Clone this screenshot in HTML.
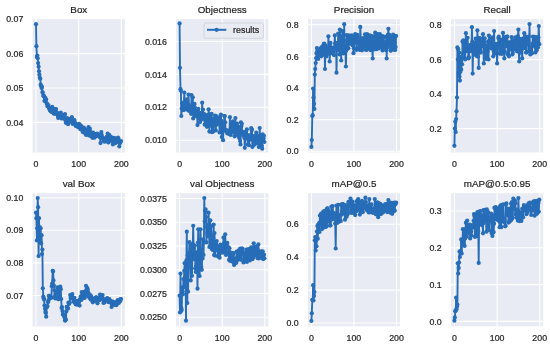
<!DOCTYPE html>
<html><head><meta charset="utf-8"><title>results</title>
<style>
html,body{margin:0;padding:0;background:#fff;}
svg{display:block;}
text{font-family:"Liberation Sans",Arial,sans-serif;fill:#262626;stroke:#262626;stroke-width:0.22px;}
.t{font-size:9.8px;text-anchor:middle;}
.y{font-size:8.8px;text-anchor:end;}
.x{font-size:8.8px;text-anchor:middle;}
.g{stroke:#fff;stroke-width:1.1;}
.l{fill:none;stroke:#276db8;stroke-width:1.9;stroke-linejoin:round;stroke-linecap:round;}
.m{fill:#276db8;}
</style></head><body>
<svg width="550" height="347" viewBox="0 0 550 347">
<rect width="550" height="347" fill="#fff"/>
<g>
<rect x="32.6" y="19.1" width="92.3" height="133.4" fill="#e8ebf3"/>
<line class="g" x1="36" y1="19.1" x2="36" y2="152.5"/><line class="g" x1="78.7" y1="19.1" x2="78.7" y2="152.5"/><line class="g" x1="121.4" y1="19.1" x2="121.4" y2="152.5"/><line class="g" x1="32.6" y1="53.6" x2="124.9" y2="53.6"/><line class="g" x1="32.6" y1="88" x2="124.9" y2="88"/><line class="g" x1="32.6" y1="122.4" x2="124.9" y2="122.4"/>
<clipPath id="c0"><rect x="32.6" y="19.1" width="92.3" height="133.4"/></clipPath>
<g clip-path="url(#c0)"><polyline class="l" points="36,24.2 36.4,46.2 36.9,56.9 37.3,55.5 37.7,58.3 38.1,63.1 38.6,66.7 39,71.3 39.4,74.7 39.8,77.8 40.3,78.7 40.7,84.7 41.1,85.9 41.6,87.9 42,86.9 42.4,92 42.8,92.9 43.3,95.8 43.7,96 44.1,96.2 44.5,100.9 45,98 45.4,98.1 45.8,99.5 46.2,99.6 46.7,103.4 47.1,103.9 47.5,106.2 48,106.1 48.4,105 48.8,107.6 49.2,108.3 49.7,109.7 50.1,110.5 50.5,110.7 50.9,109.7 51.4,111.9 51.8,110.1 52.2,106.8 52.7,108 53.1,110.5 53.5,113 53.9,113.7 54.4,109.1 54.8,111.4 55.2,113.8 55.6,113.1 56.1,109.1 56.5,112.3 56.9,112.5 57.4,113.5 57.8,115.4 58.2,117.9 58.6,117.3 59.1,117 59.5,115.5 59.9,114.8 60.3,114.5 60.8,112.7 61.2,115.1 61.6,118.5 62,115.3 62.5,116.1 62.9,118.2 63.3,117.2 63.8,118.3 64.2,116.1 64.6,114.8 65,114 65.5,120.4 65.9,122.8 66.3,121.6 66.7,119.9 67.2,118 67.6,118.8 68,124.2 68.5,122.2 68.9,119.3 69.3,119.8 69.7,118.9 70.2,120.9 70.6,121.7 71,121.3 71.4,120.8 71.9,117.2 72.3,121.8 72.7,123.9 73.1,122.4 73.6,122.7 74,120.7 74.4,120.1 74.9,122.4 75.3,124.5 75.7,125.9 76.1,124.2 76.6,124.6 77,125.8 77.4,125.5 77.8,127.1 78.3,124.8 78.7,126.9 79.1,123.9 79.6,125 80,125.1 80.4,129.2 80.8,127.7 81.3,126.2 81.7,129.8 82.1,129.5 82.5,128.9 83,132.2 83.4,129.4 83.8,127.6 84.3,131.1 84.7,129.6 85.1,133.2 85.5,131.5 86,134.9 86.4,129.7 86.8,130 87.2,131.3 87.7,133.6 88.1,129.7 88.5,127 88.9,135.5 89.4,130.9 89.8,128.7 90.2,131.4 90.7,136 91.1,132.5 91.5,134.1 91.9,135.7 92.4,137.8 92.8,134.3 93.2,132.7 93.6,135.8 94.1,134.1 94.5,137.7 94.9,134.2 95.4,135 95.8,136 96.2,136.2 96.6,134 97.1,133.7 97.5,134.3 97.9,135.5 98.3,136.1 98.8,135.1 99.2,135.9 99.6,135.1 100.1,137.4 100.5,143.1 100.9,136.8 101.3,132.1 101.8,135 102.2,137.3 102.6,138.2 103,138.5 103.5,138.3 103.9,141.2 104.3,140.6 104.7,141.7 105.2,139 105.6,139.7 106,138 106.5,139.2 106.9,136.7 107.3,138 107.7,133.6 108.2,142.5 108.6,142.2 109,138.2 109.4,135.2 109.9,138.5 110.3,139.6 110.7,140.6 111.2,137.1 111.6,140.2 112,138.9 112.4,141.1 112.9,144.4 113.3,141.4 113.7,140.1 114.1,137.8 114.6,140.9 115,143.2 115.4,141 115.8,141.3 116.3,138.6 116.7,142.4 117.1,139.7 117.6,141 118,137.6 118.4,138.8 118.8,140.4 119.3,146.5 119.7,143.3 120.1,142.8 120.5,141.8 121,141"/>
<g class="m"><circle cx="36" cy="24.2" r="2.1"/><circle cx="36.4" cy="46.2" r="2.1"/><circle cx="36.9" cy="56.9" r="2.1"/><circle cx="37.3" cy="55.5" r="2.1"/><circle cx="37.7" cy="58.3" r="2.1"/><circle cx="38.1" cy="63.1" r="2.1"/><circle cx="38.6" cy="66.7" r="2.1"/><circle cx="39" cy="71.3" r="2.1"/><circle cx="39.4" cy="74.7" r="2.1"/><circle cx="39.8" cy="77.8" r="2.1"/><circle cx="40.3" cy="78.7" r="2.1"/><circle cx="40.7" cy="84.7" r="2.1"/><circle cx="41.1" cy="85.9" r="2.1"/><circle cx="41.6" cy="87.9" r="2.1"/><circle cx="42" cy="86.9" r="2.1"/><circle cx="42.4" cy="92" r="2.1"/><circle cx="42.8" cy="92.9" r="2.1"/><circle cx="43.3" cy="95.8" r="2.1"/><circle cx="43.7" cy="96" r="2.1"/><circle cx="44.1" cy="96.2" r="2.1"/><circle cx="44.5" cy="100.9" r="2.1"/><circle cx="45" cy="98" r="2.1"/><circle cx="45.4" cy="98.1" r="2.1"/><circle cx="45.8" cy="99.5" r="2.1"/><circle cx="46.2" cy="99.6" r="2.1"/><circle cx="46.7" cy="103.4" r="2.1"/><circle cx="47.1" cy="103.9" r="2.1"/><circle cx="47.5" cy="106.2" r="2.1"/><circle cx="48" cy="106.1" r="2.1"/><circle cx="48.4" cy="105" r="2.1"/><circle cx="48.8" cy="107.6" r="2.1"/><circle cx="49.2" cy="108.3" r="2.1"/><circle cx="49.7" cy="109.7" r="2.1"/><circle cx="50.1" cy="110.5" r="2.1"/><circle cx="50.5" cy="110.7" r="2.1"/><circle cx="50.9" cy="109.7" r="2.1"/><circle cx="51.4" cy="111.9" r="2.1"/><circle cx="51.8" cy="110.1" r="2.1"/><circle cx="52.2" cy="106.8" r="2.1"/><circle cx="52.7" cy="108" r="2.1"/><circle cx="53.1" cy="110.5" r="2.1"/><circle cx="53.5" cy="113" r="2.1"/><circle cx="53.9" cy="113.7" r="2.1"/><circle cx="54.4" cy="109.1" r="2.1"/><circle cx="54.8" cy="111.4" r="2.1"/><circle cx="55.2" cy="113.8" r="2.1"/><circle cx="55.6" cy="113.1" r="2.1"/><circle cx="56.1" cy="109.1" r="2.1"/><circle cx="56.5" cy="112.3" r="2.1"/><circle cx="56.9" cy="112.5" r="2.1"/><circle cx="57.4" cy="113.5" r="2.1"/><circle cx="57.8" cy="115.4" r="2.1"/><circle cx="58.2" cy="117.9" r="2.1"/><circle cx="58.6" cy="117.3" r="2.1"/><circle cx="59.1" cy="117" r="2.1"/><circle cx="59.5" cy="115.5" r="2.1"/><circle cx="59.9" cy="114.8" r="2.1"/><circle cx="60.3" cy="114.5" r="2.1"/><circle cx="60.8" cy="112.7" r="2.1"/><circle cx="61.2" cy="115.1" r="2.1"/><circle cx="61.6" cy="118.5" r="2.1"/><circle cx="62" cy="115.3" r="2.1"/><circle cx="62.5" cy="116.1" r="2.1"/><circle cx="62.9" cy="118.2" r="2.1"/><circle cx="63.3" cy="117.2" r="2.1"/><circle cx="63.8" cy="118.3" r="2.1"/><circle cx="64.2" cy="116.1" r="2.1"/><circle cx="64.6" cy="114.8" r="2.1"/><circle cx="65" cy="114" r="2.1"/><circle cx="65.5" cy="120.4" r="2.1"/><circle cx="65.9" cy="122.8" r="2.1"/><circle cx="66.3" cy="121.6" r="2.1"/><circle cx="66.7" cy="119.9" r="2.1"/><circle cx="67.2" cy="118" r="2.1"/><circle cx="67.6" cy="118.8" r="2.1"/><circle cx="68" cy="124.2" r="2.1"/><circle cx="68.5" cy="122.2" r="2.1"/><circle cx="68.9" cy="119.3" r="2.1"/><circle cx="69.3" cy="119.8" r="2.1"/><circle cx="69.7" cy="118.9" r="2.1"/><circle cx="70.2" cy="120.9" r="2.1"/><circle cx="70.6" cy="121.7" r="2.1"/><circle cx="71" cy="121.3" r="2.1"/><circle cx="71.4" cy="120.8" r="2.1"/><circle cx="71.9" cy="117.2" r="2.1"/><circle cx="72.3" cy="121.8" r="2.1"/><circle cx="72.7" cy="123.9" r="2.1"/><circle cx="73.1" cy="122.4" r="2.1"/><circle cx="73.6" cy="122.7" r="2.1"/><circle cx="74" cy="120.7" r="2.1"/><circle cx="74.4" cy="120.1" r="2.1"/><circle cx="74.9" cy="122.4" r="2.1"/><circle cx="75.3" cy="124.5" r="2.1"/><circle cx="75.7" cy="125.9" r="2.1"/><circle cx="76.1" cy="124.2" r="2.1"/><circle cx="76.6" cy="124.6" r="2.1"/><circle cx="77" cy="125.8" r="2.1"/><circle cx="77.4" cy="125.5" r="2.1"/><circle cx="77.8" cy="127.1" r="2.1"/><circle cx="78.3" cy="124.8" r="2.1"/><circle cx="78.7" cy="126.9" r="2.1"/><circle cx="79.1" cy="123.9" r="2.1"/><circle cx="79.6" cy="125" r="2.1"/><circle cx="80" cy="125.1" r="2.1"/><circle cx="80.4" cy="129.2" r="2.1"/><circle cx="80.8" cy="127.7" r="2.1"/><circle cx="81.3" cy="126.2" r="2.1"/><circle cx="81.7" cy="129.8" r="2.1"/><circle cx="82.1" cy="129.5" r="2.1"/><circle cx="82.5" cy="128.9" r="2.1"/><circle cx="83" cy="132.2" r="2.1"/><circle cx="83.4" cy="129.4" r="2.1"/><circle cx="83.8" cy="127.6" r="2.1"/><circle cx="84.3" cy="131.1" r="2.1"/><circle cx="84.7" cy="129.6" r="2.1"/><circle cx="85.1" cy="133.2" r="2.1"/><circle cx="85.5" cy="131.5" r="2.1"/><circle cx="86" cy="134.9" r="2.1"/><circle cx="86.4" cy="129.7" r="2.1"/><circle cx="86.8" cy="130" r="2.1"/><circle cx="87.2" cy="131.3" r="2.1"/><circle cx="87.7" cy="133.6" r="2.1"/><circle cx="88.1" cy="129.7" r="2.1"/><circle cx="88.5" cy="127" r="2.1"/><circle cx="88.9" cy="135.5" r="2.1"/><circle cx="89.4" cy="130.9" r="2.1"/><circle cx="89.8" cy="128.7" r="2.1"/><circle cx="90.2" cy="131.4" r="2.1"/><circle cx="90.7" cy="136" r="2.1"/><circle cx="91.1" cy="132.5" r="2.1"/><circle cx="91.5" cy="134.1" r="2.1"/><circle cx="91.9" cy="135.7" r="2.1"/><circle cx="92.4" cy="137.8" r="2.1"/><circle cx="92.8" cy="134.3" r="2.1"/><circle cx="93.2" cy="132.7" r="2.1"/><circle cx="93.6" cy="135.8" r="2.1"/><circle cx="94.1" cy="134.1" r="2.1"/><circle cx="94.5" cy="137.7" r="2.1"/><circle cx="94.9" cy="134.2" r="2.1"/><circle cx="95.4" cy="135" r="2.1"/><circle cx="95.8" cy="136" r="2.1"/><circle cx="96.2" cy="136.2" r="2.1"/><circle cx="96.6" cy="134" r="2.1"/><circle cx="97.1" cy="133.7" r="2.1"/><circle cx="97.5" cy="134.3" r="2.1"/><circle cx="97.9" cy="135.5" r="2.1"/><circle cx="98.3" cy="136.1" r="2.1"/><circle cx="98.8" cy="135.1" r="2.1"/><circle cx="99.2" cy="135.9" r="2.1"/><circle cx="99.6" cy="135.1" r="2.1"/><circle cx="100.1" cy="137.4" r="2.1"/><circle cx="100.5" cy="143.1" r="2.1"/><circle cx="100.9" cy="136.8" r="2.1"/><circle cx="101.3" cy="132.1" r="2.1"/><circle cx="101.8" cy="135" r="2.1"/><circle cx="102.2" cy="137.3" r="2.1"/><circle cx="102.6" cy="138.2" r="2.1"/><circle cx="103" cy="138.5" r="2.1"/><circle cx="103.5" cy="138.3" r="2.1"/><circle cx="103.9" cy="141.2" r="2.1"/><circle cx="104.3" cy="140.6" r="2.1"/><circle cx="104.7" cy="141.7" r="2.1"/><circle cx="105.2" cy="139" r="2.1"/><circle cx="105.6" cy="139.7" r="2.1"/><circle cx="106" cy="138" r="2.1"/><circle cx="106.5" cy="139.2" r="2.1"/><circle cx="106.9" cy="136.7" r="2.1"/><circle cx="107.3" cy="138" r="2.1"/><circle cx="107.7" cy="133.6" r="2.1"/><circle cx="108.2" cy="142.5" r="2.1"/><circle cx="108.6" cy="142.2" r="2.1"/><circle cx="109" cy="138.2" r="2.1"/><circle cx="109.4" cy="135.2" r="2.1"/><circle cx="109.9" cy="138.5" r="2.1"/><circle cx="110.3" cy="139.6" r="2.1"/><circle cx="110.7" cy="140.6" r="2.1"/><circle cx="111.2" cy="137.1" r="2.1"/><circle cx="111.6" cy="140.2" r="2.1"/><circle cx="112" cy="138.9" r="2.1"/><circle cx="112.4" cy="141.1" r="2.1"/><circle cx="112.9" cy="144.4" r="2.1"/><circle cx="113.3" cy="141.4" r="2.1"/><circle cx="113.7" cy="140.1" r="2.1"/><circle cx="114.1" cy="137.8" r="2.1"/><circle cx="114.6" cy="140.9" r="2.1"/><circle cx="115" cy="143.2" r="2.1"/><circle cx="115.4" cy="141" r="2.1"/><circle cx="115.8" cy="141.3" r="2.1"/><circle cx="116.3" cy="138.6" r="2.1"/><circle cx="116.7" cy="142.4" r="2.1"/><circle cx="117.1" cy="139.7" r="2.1"/><circle cx="117.6" cy="141" r="2.1"/><circle cx="118" cy="137.6" r="2.1"/><circle cx="118.4" cy="138.8" r="2.1"/><circle cx="118.8" cy="140.4" r="2.1"/><circle cx="119.3" cy="146.5" r="2.1"/><circle cx="119.7" cy="143.3" r="2.1"/><circle cx="120.1" cy="142.8" r="2.1"/><circle cx="120.5" cy="141.8" r="2.1"/><circle cx="121" cy="141" r="2.1"/></g></g>
<text class="t" x="78.8" y="13.2">Box</text>
<text class="y" x="23.3" y="22.1">0.07</text><text class="y" x="23.3" y="56.7">0.06</text><text class="y" x="23.3" y="91.1">0.05</text><text class="y" x="23.3" y="125.5">0.04</text>
<text class="x" x="36" y="167.4">0</text><text class="x" x="78.7" y="167.4">100</text><text class="x" x="121.4" y="167.4">200</text>
</g>
<g>
<rect x="176.2" y="19.1" width="92.1" height="133.4" fill="#e8ebf3"/>
<line class="g" x1="179.6" y1="19.1" x2="179.6" y2="152.5"/><line class="g" x1="222.2" y1="19.1" x2="222.2" y2="152.5"/><line class="g" x1="264.8" y1="19.1" x2="264.8" y2="152.5"/><line class="g" x1="176.2" y1="41.5" x2="268.3" y2="41.5"/><line class="g" x1="176.2" y1="74.4" x2="268.3" y2="74.4"/><line class="g" x1="176.2" y1="107.3" x2="268.3" y2="107.3"/><line class="g" x1="176.2" y1="140.2" x2="268.3" y2="140.2"/>
<clipPath id="c1"><rect x="176.2" y="19.1" width="92.1" height="133.4"/></clipPath>
<g clip-path="url(#c1)"><polyline class="l" points="179.6,23.4 180,67.8 180.5,89.2 180.9,90.8 181.3,116 181.7,108.6 182.2,103.2 182.6,109.1 183,110.2 183.4,110 183.9,102.8 184.3,92.6 184.7,101.1 185.1,109.4 185.6,103.1 186,107.5 186.4,105.8 186.8,99.4 187.3,107.7 187.7,106 188.1,110.3 188.5,94.6 189,105.2 189.4,111 189.8,109.2 190.2,108.4 190.7,110.4 191.1,113.8 191.5,95 192,110.2 192.4,109.4 192.8,97.3 193.2,118.5 193.7,111.4 194.1,109 194.5,103.9 194.9,107.5 195.4,115.9 195.8,114.2 196.2,111.7 196.6,115.9 197.1,112.1 197.5,125.1 197.9,110.6 198.3,108.9 198.8,118.2 199.2,115.4 199.6,117.3 200,122.1 200.5,118.5 200.9,112.8 201.3,118.2 201.8,119.4 202.2,102.7 202.6,114.9 203,109.7 203.5,117.9 203.9,114 204.3,114.3 204.7,124.7 205.2,119.9 205.6,117.6 206,116.8 206.4,115 206.9,126.8 207.3,119.4 207.7,121.5 208.1,126.1 208.6,109.3 209,114.6 209.4,131.6 209.8,115.5 210.3,120.5 210.7,119.7 211.1,125.7 211.6,113.9 212,132.2 212.4,124.5 212.8,118.8 213.3,131.4 213.7,125.5 214.1,123.6 214.5,118.8 215,115.6 215.4,123.3 215.8,130.4 216.2,118.5 216.7,116.4 217.1,124.6 217.5,122.7 217.9,122.2 218.4,121.4 218.8,123.2 219.2,117.8 219.6,132.4 220.1,122.3 220.5,123.3 220.9,114.5 221.3,120.8 221.8,137.1 222.2,123.8 222.6,124.4 223.1,140.2 223.5,126.4 223.9,128.7 224.3,116.1 224.8,116.1 225.2,122.3 225.6,130 226,131.3 226.5,130.4 226.9,131.4 227.3,133.4 227.7,132.4 228.2,130.7 228.6,131.5 229,132.7 229.4,134.2 229.9,117.2 230.3,133.1 230.7,134.9 231.1,128.1 231.6,130.2 232,126.9 232.4,124.3 232.9,121.3 233.3,123.1 233.7,132.2 234.1,124 234.6,136.3 235,131.2 235.4,118 235.8,134.8 236.3,127.2 236.7,129.2 237.1,123.7 237.5,135.4 238,127.1 238.4,127.2 238.8,129.5 239.2,138.1 239.7,134.9 240.1,141 240.5,144.4 240.9,122.3 241.4,126 241.8,123.8 242.2,134.7 242.6,132.2 243.1,132 243.5,132.8 243.9,136 244.4,138 244.8,147.8 245.2,137 245.6,135.4 246.1,131.6 246.5,137.7 246.9,129.3 247.3,138.1 247.8,144.5 248.2,135.3 248.6,140 249,145.2 249.5,139.8 249.9,135.4 250.3,136.9 250.7,136.2 251.2,128 251.6,130.1 252,129.6 252.4,147 252.9,139.8 253.3,136.1 253.7,140.9 254.2,144.8 254.6,139.4 255,141.7 255.4,143.7 255.9,135.6 256.3,132.7 256.7,137.2 257.1,142.1 257.6,138.5 258,136.2 258.4,136.6 258.8,147.1 259.3,144.2 259.7,128 260.1,137.8 260.5,135.6 261,136.2 261.4,145.7 261.8,146 262.2,148.7 262.7,134.4 263.1,139 263.5,138.3 263.9,135.8 264.4,142"/>
<g class="m"><circle cx="179.6" cy="23.4" r="2.1"/><circle cx="180" cy="67.8" r="2.1"/><circle cx="180.5" cy="89.2" r="2.1"/><circle cx="180.9" cy="90.8" r="2.1"/><circle cx="181.3" cy="116" r="2.1"/><circle cx="181.7" cy="108.6" r="2.1"/><circle cx="182.2" cy="103.2" r="2.1"/><circle cx="182.6" cy="109.1" r="2.1"/><circle cx="183" cy="110.2" r="2.1"/><circle cx="183.4" cy="110" r="2.1"/><circle cx="183.9" cy="102.8" r="2.1"/><circle cx="184.3" cy="92.6" r="2.1"/><circle cx="184.7" cy="101.1" r="2.1"/><circle cx="185.1" cy="109.4" r="2.1"/><circle cx="185.6" cy="103.1" r="2.1"/><circle cx="186" cy="107.5" r="2.1"/><circle cx="186.4" cy="105.8" r="2.1"/><circle cx="186.8" cy="99.4" r="2.1"/><circle cx="187.3" cy="107.7" r="2.1"/><circle cx="187.7" cy="106" r="2.1"/><circle cx="188.1" cy="110.3" r="2.1"/><circle cx="188.5" cy="94.6" r="2.1"/><circle cx="189" cy="105.2" r="2.1"/><circle cx="189.4" cy="111" r="2.1"/><circle cx="189.8" cy="109.2" r="2.1"/><circle cx="190.2" cy="108.4" r="2.1"/><circle cx="190.7" cy="110.4" r="2.1"/><circle cx="191.1" cy="113.8" r="2.1"/><circle cx="191.5" cy="95" r="2.1"/><circle cx="192" cy="110.2" r="2.1"/><circle cx="192.4" cy="109.4" r="2.1"/><circle cx="192.8" cy="97.3" r="2.1"/><circle cx="193.2" cy="118.5" r="2.1"/><circle cx="193.7" cy="111.4" r="2.1"/><circle cx="194.1" cy="109" r="2.1"/><circle cx="194.5" cy="103.9" r="2.1"/><circle cx="194.9" cy="107.5" r="2.1"/><circle cx="195.4" cy="115.9" r="2.1"/><circle cx="195.8" cy="114.2" r="2.1"/><circle cx="196.2" cy="111.7" r="2.1"/><circle cx="196.6" cy="115.9" r="2.1"/><circle cx="197.1" cy="112.1" r="2.1"/><circle cx="197.5" cy="125.1" r="2.1"/><circle cx="197.9" cy="110.6" r="2.1"/><circle cx="198.3" cy="108.9" r="2.1"/><circle cx="198.8" cy="118.2" r="2.1"/><circle cx="199.2" cy="115.4" r="2.1"/><circle cx="199.6" cy="117.3" r="2.1"/><circle cx="200" cy="122.1" r="2.1"/><circle cx="200.5" cy="118.5" r="2.1"/><circle cx="200.9" cy="112.8" r="2.1"/><circle cx="201.3" cy="118.2" r="2.1"/><circle cx="201.8" cy="119.4" r="2.1"/><circle cx="202.2" cy="102.7" r="2.1"/><circle cx="202.6" cy="114.9" r="2.1"/><circle cx="203" cy="109.7" r="2.1"/><circle cx="203.5" cy="117.9" r="2.1"/><circle cx="203.9" cy="114" r="2.1"/><circle cx="204.3" cy="114.3" r="2.1"/><circle cx="204.7" cy="124.7" r="2.1"/><circle cx="205.2" cy="119.9" r="2.1"/><circle cx="205.6" cy="117.6" r="2.1"/><circle cx="206" cy="116.8" r="2.1"/><circle cx="206.4" cy="115" r="2.1"/><circle cx="206.9" cy="126.8" r="2.1"/><circle cx="207.3" cy="119.4" r="2.1"/><circle cx="207.7" cy="121.5" r="2.1"/><circle cx="208.1" cy="126.1" r="2.1"/><circle cx="208.6" cy="109.3" r="2.1"/><circle cx="209" cy="114.6" r="2.1"/><circle cx="209.4" cy="131.6" r="2.1"/><circle cx="209.8" cy="115.5" r="2.1"/><circle cx="210.3" cy="120.5" r="2.1"/><circle cx="210.7" cy="119.7" r="2.1"/><circle cx="211.1" cy="125.7" r="2.1"/><circle cx="211.6" cy="113.9" r="2.1"/><circle cx="212" cy="132.2" r="2.1"/><circle cx="212.4" cy="124.5" r="2.1"/><circle cx="212.8" cy="118.8" r="2.1"/><circle cx="213.3" cy="131.4" r="2.1"/><circle cx="213.7" cy="125.5" r="2.1"/><circle cx="214.1" cy="123.6" r="2.1"/><circle cx="214.5" cy="118.8" r="2.1"/><circle cx="215" cy="115.6" r="2.1"/><circle cx="215.4" cy="123.3" r="2.1"/><circle cx="215.8" cy="130.4" r="2.1"/><circle cx="216.2" cy="118.5" r="2.1"/><circle cx="216.7" cy="116.4" r="2.1"/><circle cx="217.1" cy="124.6" r="2.1"/><circle cx="217.5" cy="122.7" r="2.1"/><circle cx="217.9" cy="122.2" r="2.1"/><circle cx="218.4" cy="121.4" r="2.1"/><circle cx="218.8" cy="123.2" r="2.1"/><circle cx="219.2" cy="117.8" r="2.1"/><circle cx="219.6" cy="132.4" r="2.1"/><circle cx="220.1" cy="122.3" r="2.1"/><circle cx="220.5" cy="123.3" r="2.1"/><circle cx="220.9" cy="114.5" r="2.1"/><circle cx="221.3" cy="120.8" r="2.1"/><circle cx="221.8" cy="137.1" r="2.1"/><circle cx="222.2" cy="123.8" r="2.1"/><circle cx="222.6" cy="124.4" r="2.1"/><circle cx="223.1" cy="140.2" r="2.1"/><circle cx="223.5" cy="126.4" r="2.1"/><circle cx="223.9" cy="128.7" r="2.1"/><circle cx="224.3" cy="116.1" r="2.1"/><circle cx="224.8" cy="116.1" r="2.1"/><circle cx="225.2" cy="122.3" r="2.1"/><circle cx="225.6" cy="130" r="2.1"/><circle cx="226" cy="131.3" r="2.1"/><circle cx="226.5" cy="130.4" r="2.1"/><circle cx="226.9" cy="131.4" r="2.1"/><circle cx="227.3" cy="133.4" r="2.1"/><circle cx="227.7" cy="132.4" r="2.1"/><circle cx="228.2" cy="130.7" r="2.1"/><circle cx="228.6" cy="131.5" r="2.1"/><circle cx="229" cy="132.7" r="2.1"/><circle cx="229.4" cy="134.2" r="2.1"/><circle cx="229.9" cy="117.2" r="2.1"/><circle cx="230.3" cy="133.1" r="2.1"/><circle cx="230.7" cy="134.9" r="2.1"/><circle cx="231.1" cy="128.1" r="2.1"/><circle cx="231.6" cy="130.2" r="2.1"/><circle cx="232" cy="126.9" r="2.1"/><circle cx="232.4" cy="124.3" r="2.1"/><circle cx="232.9" cy="121.3" r="2.1"/><circle cx="233.3" cy="123.1" r="2.1"/><circle cx="233.7" cy="132.2" r="2.1"/><circle cx="234.1" cy="124" r="2.1"/><circle cx="234.6" cy="136.3" r="2.1"/><circle cx="235" cy="131.2" r="2.1"/><circle cx="235.4" cy="118" r="2.1"/><circle cx="235.8" cy="134.8" r="2.1"/><circle cx="236.3" cy="127.2" r="2.1"/><circle cx="236.7" cy="129.2" r="2.1"/><circle cx="237.1" cy="123.7" r="2.1"/><circle cx="237.5" cy="135.4" r="2.1"/><circle cx="238" cy="127.1" r="2.1"/><circle cx="238.4" cy="127.2" r="2.1"/><circle cx="238.8" cy="129.5" r="2.1"/><circle cx="239.2" cy="138.1" r="2.1"/><circle cx="239.7" cy="134.9" r="2.1"/><circle cx="240.1" cy="141" r="2.1"/><circle cx="240.5" cy="144.4" r="2.1"/><circle cx="240.9" cy="122.3" r="2.1"/><circle cx="241.4" cy="126" r="2.1"/><circle cx="241.8" cy="123.8" r="2.1"/><circle cx="242.2" cy="134.7" r="2.1"/><circle cx="242.6" cy="132.2" r="2.1"/><circle cx="243.1" cy="132" r="2.1"/><circle cx="243.5" cy="132.8" r="2.1"/><circle cx="243.9" cy="136" r="2.1"/><circle cx="244.4" cy="138" r="2.1"/><circle cx="244.8" cy="147.8" r="2.1"/><circle cx="245.2" cy="137" r="2.1"/><circle cx="245.6" cy="135.4" r="2.1"/><circle cx="246.1" cy="131.6" r="2.1"/><circle cx="246.5" cy="137.7" r="2.1"/><circle cx="246.9" cy="129.3" r="2.1"/><circle cx="247.3" cy="138.1" r="2.1"/><circle cx="247.8" cy="144.5" r="2.1"/><circle cx="248.2" cy="135.3" r="2.1"/><circle cx="248.6" cy="140" r="2.1"/><circle cx="249" cy="145.2" r="2.1"/><circle cx="249.5" cy="139.8" r="2.1"/><circle cx="249.9" cy="135.4" r="2.1"/><circle cx="250.3" cy="136.9" r="2.1"/><circle cx="250.7" cy="136.2" r="2.1"/><circle cx="251.2" cy="128" r="2.1"/><circle cx="251.6" cy="130.1" r="2.1"/><circle cx="252" cy="129.6" r="2.1"/><circle cx="252.4" cy="147" r="2.1"/><circle cx="252.9" cy="139.8" r="2.1"/><circle cx="253.3" cy="136.1" r="2.1"/><circle cx="253.7" cy="140.9" r="2.1"/><circle cx="254.2" cy="144.8" r="2.1"/><circle cx="254.6" cy="139.4" r="2.1"/><circle cx="255" cy="141.7" r="2.1"/><circle cx="255.4" cy="143.7" r="2.1"/><circle cx="255.9" cy="135.6" r="2.1"/><circle cx="256.3" cy="132.7" r="2.1"/><circle cx="256.7" cy="137.2" r="2.1"/><circle cx="257.1" cy="142.1" r="2.1"/><circle cx="257.6" cy="138.5" r="2.1"/><circle cx="258" cy="136.2" r="2.1"/><circle cx="258.4" cy="136.6" r="2.1"/><circle cx="258.8" cy="147.1" r="2.1"/><circle cx="259.3" cy="144.2" r="2.1"/><circle cx="259.7" cy="128" r="2.1"/><circle cx="260.1" cy="137.8" r="2.1"/><circle cx="260.5" cy="135.6" r="2.1"/><circle cx="261" cy="136.2" r="2.1"/><circle cx="261.4" cy="145.7" r="2.1"/><circle cx="261.8" cy="146" r="2.1"/><circle cx="262.2" cy="148.7" r="2.1"/><circle cx="262.7" cy="134.4" r="2.1"/><circle cx="263.1" cy="139" r="2.1"/><circle cx="263.5" cy="138.3" r="2.1"/><circle cx="263.9" cy="135.8" r="2.1"/><circle cx="264.4" cy="142" r="2.1"/></g></g>
<text class="t" x="222.2" y="13.2">Objectness</text>
<text class="y" x="166.9" y="44.6">0.016</text><text class="y" x="166.9" y="77.5">0.014</text><text class="y" x="166.9" y="110.4">0.012</text><text class="y" x="166.9" y="143.3">0.010</text>
<text class="x" x="179.6" y="167.4">0</text><text class="x" x="222.2" y="167.4">100</text><text class="x" x="264.8" y="167.4">200</text>
<rect x="204" y="23" width="59.4" height="15.3" rx="1.8" fill="#e8ebf3" fill-opacity="0.8" stroke="#cfcfd6" stroke-width="0.8"/>
<line x1="207" y1="29.8" x2="226.3" y2="29.8" stroke="#276db8" stroke-width="2"/><circle cx="216.6" cy="29.8" r="2.1" fill="#276db8"/><text x="233.1" y="32.6" style="font-size:8.9px">results</text>
</g>
<g>
<rect x="308" y="19.1" width="92" height="133.4" fill="#e8ebf3"/>
<line class="g" x1="311.4" y1="19.1" x2="311.4" y2="152.5"/><line class="g" x1="353.9" y1="19.1" x2="353.9" y2="152.5"/><line class="g" x1="396.5" y1="19.1" x2="396.5" y2="152.5"/><line class="g" x1="308" y1="24.8" x2="400" y2="24.8"/><line class="g" x1="308" y1="56.4" x2="400" y2="56.4"/><line class="g" x1="308" y1="88" x2="400" y2="88"/><line class="g" x1="308" y1="119.6" x2="400" y2="119.6"/><line class="g" x1="308" y1="151.2" x2="400" y2="151.2"/>
<clipPath id="c2"><rect x="308" y="19.1" width="92" height="133.4"/></clipPath>
<g clip-path="url(#c2)"><polyline class="l" points="311.4,146.9 311.8,140.1 312.3,116 312.7,115.2 313.1,88.6 313.5,97.5 314,103.8 314.4,109 314.8,74.6 315.2,69 315.7,63 316.1,58 316.5,53.2 316.9,48 317.4,51 317.8,51.7 318.2,59 318.6,51.5 319.1,55.4 319.5,52.9 319.9,54.7 320.3,48.4 320.8,52.1 321.2,56.3 321.6,50.4 322,46.8 322.5,53.8 322.9,55 323.3,52.4 323.7,44.2 324.2,43.6 324.6,48 325,69 325.4,45.3 325.9,52.2 326.3,56.4 326.7,47.9 327.1,49.2 327.6,52 328,54 328.4,36.3 328.8,50 329.3,53 329.7,61.5 330.1,49.7 330.5,42.9 331,47.3 331.4,52.3 331.8,52.3 332.2,49.1 332.7,53.4 333.1,53.3 333.5,47.7 334,55.2 334.4,48 334.8,35.4 335.2,43.6 335.7,42.8 336.1,43.6 336.5,72.7 336.9,49.3 337.4,43.6 337.8,49.7 338.2,33.5 338.6,49.7 339.1,47.3 339.5,54.5 339.9,29.5 340.3,36.7 340.8,50.9 341.2,60.5 341.6,42.5 342,40.9 342.5,31.1 342.9,43.1 343.3,53.3 343.7,53.1 344.2,24.2 344.6,51.3 345,52.2 345.4,51.5 345.9,66.5 346.3,50.2 346.7,35.1 347.1,40.4 347.6,43.1 348,39.8 348.4,48.3 348.8,35.4 349.3,37 349.7,39.2 350.1,43.8 350.5,36.8 351,38.6 351.4,40.1 351.8,35.3 352.2,40.5 352.7,45.4 353.1,41.8 353.5,53.2 353.9,48.2 354.4,38.5 354.8,37.4 355.2,34 355.7,36.2 356.1,41.7 356.5,49.9 356.9,42.7 357.4,34.8 357.8,37.3 358.2,42.7 358.6,43.2 359.1,47.5 359.5,48.2 359.9,50 360.3,26.9 360.8,39.9 361.2,48.7 361.6,43.9 362,50.3 362.5,47.4 362.9,38.2 363.3,39.6 363.7,42.6 364.2,46.2 364.6,39.6 365,34.3 365.4,43.3 365.9,49.7 366.3,49.9 366.7,49.4 367.1,34.2 367.6,41.5 368,36.3 368.4,48.1 368.8,46.5 369.3,38.9 369.7,35.3 370.1,45.2 370.5,50.2 371,35.9 371.4,46.2 371.8,38.2 372.2,48.7 372.7,58.5 373.1,36.4 373.5,38.5 373.9,45.2 374.4,38.5 374.8,49.3 375.2,32.7 375.7,44.2 376.1,35.8 376.5,49.2 376.9,35.7 377.4,37.2 377.8,34 378.2,45.4 378.6,48.5 379.1,47.8 379.5,36.8 379.9,34.2 380.3,39.2 380.8,43.3 381.2,46.9 381.6,36.7 382,36 382.5,50.5 382.9,48.1 383.3,36.8 383.7,36.5 384.2,46.2 384.6,46.9 385,44.1 385.4,42.1 385.9,50.1 386.3,36.7 386.7,58.5 387.1,37.9 387.6,47.6 388,34.5 388.4,28.8 388.8,45.5 389.3,34.9 389.7,39.2 390.1,36.8 390.5,50.6 391,50.4 391.4,38.5 391.8,46 392.2,42.4 392.7,48.5 393.1,34.5 393.5,42.6 393.9,37.1 394.4,49.8 394.8,43 395.2,49.9 395.6,46.9 396.1,35.9"/>
<g class="m"><circle cx="311.4" cy="146.9" r="2.1"/><circle cx="311.8" cy="140.1" r="2.1"/><circle cx="312.3" cy="116" r="2.1"/><circle cx="312.7" cy="115.2" r="2.1"/><circle cx="313.1" cy="88.6" r="2.1"/><circle cx="313.5" cy="97.5" r="2.1"/><circle cx="314" cy="103.8" r="2.1"/><circle cx="314.4" cy="109" r="2.1"/><circle cx="314.8" cy="74.6" r="2.1"/><circle cx="315.2" cy="69" r="2.1"/><circle cx="315.7" cy="63" r="2.1"/><circle cx="316.1" cy="58" r="2.1"/><circle cx="316.5" cy="53.2" r="2.1"/><circle cx="316.9" cy="48" r="2.1"/><circle cx="317.4" cy="51" r="2.1"/><circle cx="317.8" cy="51.7" r="2.1"/><circle cx="318.2" cy="59" r="2.1"/><circle cx="318.6" cy="51.5" r="2.1"/><circle cx="319.1" cy="55.4" r="2.1"/><circle cx="319.5" cy="52.9" r="2.1"/><circle cx="319.9" cy="54.7" r="2.1"/><circle cx="320.3" cy="48.4" r="2.1"/><circle cx="320.8" cy="52.1" r="2.1"/><circle cx="321.2" cy="56.3" r="2.1"/><circle cx="321.6" cy="50.4" r="2.1"/><circle cx="322" cy="46.8" r="2.1"/><circle cx="322.5" cy="53.8" r="2.1"/><circle cx="322.9" cy="55" r="2.1"/><circle cx="323.3" cy="52.4" r="2.1"/><circle cx="323.7" cy="44.2" r="2.1"/><circle cx="324.2" cy="43.6" r="2.1"/><circle cx="324.6" cy="48" r="2.1"/><circle cx="325" cy="69" r="2.1"/><circle cx="325.4" cy="45.3" r="2.1"/><circle cx="325.9" cy="52.2" r="2.1"/><circle cx="326.3" cy="56.4" r="2.1"/><circle cx="326.7" cy="47.9" r="2.1"/><circle cx="327.1" cy="49.2" r="2.1"/><circle cx="327.6" cy="52" r="2.1"/><circle cx="328" cy="54" r="2.1"/><circle cx="328.4" cy="36.3" r="2.1"/><circle cx="328.8" cy="50" r="2.1"/><circle cx="329.3" cy="53" r="2.1"/><circle cx="329.7" cy="61.5" r="2.1"/><circle cx="330.1" cy="49.7" r="2.1"/><circle cx="330.5" cy="42.9" r="2.1"/><circle cx="331" cy="47.3" r="2.1"/><circle cx="331.4" cy="52.3" r="2.1"/><circle cx="331.8" cy="52.3" r="2.1"/><circle cx="332.2" cy="49.1" r="2.1"/><circle cx="332.7" cy="53.4" r="2.1"/><circle cx="333.1" cy="53.3" r="2.1"/><circle cx="333.5" cy="47.7" r="2.1"/><circle cx="334" cy="55.2" r="2.1"/><circle cx="334.4" cy="48" r="2.1"/><circle cx="334.8" cy="35.4" r="2.1"/><circle cx="335.2" cy="43.6" r="2.1"/><circle cx="335.7" cy="42.8" r="2.1"/><circle cx="336.1" cy="43.6" r="2.1"/><circle cx="336.5" cy="72.7" r="2.1"/><circle cx="336.9" cy="49.3" r="2.1"/><circle cx="337.4" cy="43.6" r="2.1"/><circle cx="337.8" cy="49.7" r="2.1"/><circle cx="338.2" cy="33.5" r="2.1"/><circle cx="338.6" cy="49.7" r="2.1"/><circle cx="339.1" cy="47.3" r="2.1"/><circle cx="339.5" cy="54.5" r="2.1"/><circle cx="339.9" cy="29.5" r="2.1"/><circle cx="340.3" cy="36.7" r="2.1"/><circle cx="340.8" cy="50.9" r="2.1"/><circle cx="341.2" cy="60.5" r="2.1"/><circle cx="341.6" cy="42.5" r="2.1"/><circle cx="342" cy="40.9" r="2.1"/><circle cx="342.5" cy="31.1" r="2.1"/><circle cx="342.9" cy="43.1" r="2.1"/><circle cx="343.3" cy="53.3" r="2.1"/><circle cx="343.7" cy="53.1" r="2.1"/><circle cx="344.2" cy="24.2" r="2.1"/><circle cx="344.6" cy="51.3" r="2.1"/><circle cx="345" cy="52.2" r="2.1"/><circle cx="345.4" cy="51.5" r="2.1"/><circle cx="345.9" cy="66.5" r="2.1"/><circle cx="346.3" cy="50.2" r="2.1"/><circle cx="346.7" cy="35.1" r="2.1"/><circle cx="347.1" cy="40.4" r="2.1"/><circle cx="347.6" cy="43.1" r="2.1"/><circle cx="348" cy="39.8" r="2.1"/><circle cx="348.4" cy="48.3" r="2.1"/><circle cx="348.8" cy="35.4" r="2.1"/><circle cx="349.3" cy="37" r="2.1"/><circle cx="349.7" cy="39.2" r="2.1"/><circle cx="350.1" cy="43.8" r="2.1"/><circle cx="350.5" cy="36.8" r="2.1"/><circle cx="351" cy="38.6" r="2.1"/><circle cx="351.4" cy="40.1" r="2.1"/><circle cx="351.8" cy="35.3" r="2.1"/><circle cx="352.2" cy="40.5" r="2.1"/><circle cx="352.7" cy="45.4" r="2.1"/><circle cx="353.1" cy="41.8" r="2.1"/><circle cx="353.5" cy="53.2" r="2.1"/><circle cx="353.9" cy="48.2" r="2.1"/><circle cx="354.4" cy="38.5" r="2.1"/><circle cx="354.8" cy="37.4" r="2.1"/><circle cx="355.2" cy="34" r="2.1"/><circle cx="355.7" cy="36.2" r="2.1"/><circle cx="356.1" cy="41.7" r="2.1"/><circle cx="356.5" cy="49.9" r="2.1"/><circle cx="356.9" cy="42.7" r="2.1"/><circle cx="357.4" cy="34.8" r="2.1"/><circle cx="357.8" cy="37.3" r="2.1"/><circle cx="358.2" cy="42.7" r="2.1"/><circle cx="358.6" cy="43.2" r="2.1"/><circle cx="359.1" cy="47.5" r="2.1"/><circle cx="359.5" cy="48.2" r="2.1"/><circle cx="359.9" cy="50" r="2.1"/><circle cx="360.3" cy="26.9" r="2.1"/><circle cx="360.8" cy="39.9" r="2.1"/><circle cx="361.2" cy="48.7" r="2.1"/><circle cx="361.6" cy="43.9" r="2.1"/><circle cx="362" cy="50.3" r="2.1"/><circle cx="362.5" cy="47.4" r="2.1"/><circle cx="362.9" cy="38.2" r="2.1"/><circle cx="363.3" cy="39.6" r="2.1"/><circle cx="363.7" cy="42.6" r="2.1"/><circle cx="364.2" cy="46.2" r="2.1"/><circle cx="364.6" cy="39.6" r="2.1"/><circle cx="365" cy="34.3" r="2.1"/><circle cx="365.4" cy="43.3" r="2.1"/><circle cx="365.9" cy="49.7" r="2.1"/><circle cx="366.3" cy="49.9" r="2.1"/><circle cx="366.7" cy="49.4" r="2.1"/><circle cx="367.1" cy="34.2" r="2.1"/><circle cx="367.6" cy="41.5" r="2.1"/><circle cx="368" cy="36.3" r="2.1"/><circle cx="368.4" cy="48.1" r="2.1"/><circle cx="368.8" cy="46.5" r="2.1"/><circle cx="369.3" cy="38.9" r="2.1"/><circle cx="369.7" cy="35.3" r="2.1"/><circle cx="370.1" cy="45.2" r="2.1"/><circle cx="370.5" cy="50.2" r="2.1"/><circle cx="371" cy="35.9" r="2.1"/><circle cx="371.4" cy="46.2" r="2.1"/><circle cx="371.8" cy="38.2" r="2.1"/><circle cx="372.2" cy="48.7" r="2.1"/><circle cx="372.7" cy="58.5" r="2.1"/><circle cx="373.1" cy="36.4" r="2.1"/><circle cx="373.5" cy="38.5" r="2.1"/><circle cx="373.9" cy="45.2" r="2.1"/><circle cx="374.4" cy="38.5" r="2.1"/><circle cx="374.8" cy="49.3" r="2.1"/><circle cx="375.2" cy="32.7" r="2.1"/><circle cx="375.7" cy="44.2" r="2.1"/><circle cx="376.1" cy="35.8" r="2.1"/><circle cx="376.5" cy="49.2" r="2.1"/><circle cx="376.9" cy="35.7" r="2.1"/><circle cx="377.4" cy="37.2" r="2.1"/><circle cx="377.8" cy="34" r="2.1"/><circle cx="378.2" cy="45.4" r="2.1"/><circle cx="378.6" cy="48.5" r="2.1"/><circle cx="379.1" cy="47.8" r="2.1"/><circle cx="379.5" cy="36.8" r="2.1"/><circle cx="379.9" cy="34.2" r="2.1"/><circle cx="380.3" cy="39.2" r="2.1"/><circle cx="380.8" cy="43.3" r="2.1"/><circle cx="381.2" cy="46.9" r="2.1"/><circle cx="381.6" cy="36.7" r="2.1"/><circle cx="382" cy="36" r="2.1"/><circle cx="382.5" cy="50.5" r="2.1"/><circle cx="382.9" cy="48.1" r="2.1"/><circle cx="383.3" cy="36.8" r="2.1"/><circle cx="383.7" cy="36.5" r="2.1"/><circle cx="384.2" cy="46.2" r="2.1"/><circle cx="384.6" cy="46.9" r="2.1"/><circle cx="385" cy="44.1" r="2.1"/><circle cx="385.4" cy="42.1" r="2.1"/><circle cx="385.9" cy="50.1" r="2.1"/><circle cx="386.3" cy="36.7" r="2.1"/><circle cx="386.7" cy="58.5" r="2.1"/><circle cx="387.1" cy="37.9" r="2.1"/><circle cx="387.6" cy="47.6" r="2.1"/><circle cx="388" cy="34.5" r="2.1"/><circle cx="388.4" cy="28.8" r="2.1"/><circle cx="388.8" cy="45.5" r="2.1"/><circle cx="389.3" cy="34.9" r="2.1"/><circle cx="389.7" cy="39.2" r="2.1"/><circle cx="390.1" cy="36.8" r="2.1"/><circle cx="390.5" cy="50.6" r="2.1"/><circle cx="391" cy="50.4" r="2.1"/><circle cx="391.4" cy="38.5" r="2.1"/><circle cx="391.8" cy="46" r="2.1"/><circle cx="392.2" cy="42.4" r="2.1"/><circle cx="392.7" cy="48.5" r="2.1"/><circle cx="393.1" cy="34.5" r="2.1"/><circle cx="393.5" cy="42.6" r="2.1"/><circle cx="393.9" cy="37.1" r="2.1"/><circle cx="394.4" cy="49.8" r="2.1"/><circle cx="394.8" cy="43" r="2.1"/><circle cx="395.2" cy="49.9" r="2.1"/><circle cx="395.6" cy="46.9" r="2.1"/><circle cx="396.1" cy="35.9" r="2.1"/></g></g>
<text class="t" x="354" y="13.2">Precision</text>
<text class="y" x="298.7" y="27.9">0.8</text><text class="y" x="298.7" y="59.5">0.6</text><text class="y" x="298.7" y="91.1">0.4</text><text class="y" x="298.7" y="122.7">0.2</text><text class="y" x="298.7" y="154.3">0.0</text>
<text class="x" x="311.4" y="167.4">0</text><text class="x" x="353.9" y="167.4">100</text><text class="x" x="396.5" y="167.4">200</text>
</g>
<g>
<rect x="451" y="19.1" width="92.2" height="133.4" fill="#e8ebf3"/>
<line class="g" x1="454.4" y1="19.1" x2="454.4" y2="152.5"/><line class="g" x1="497.1" y1="19.1" x2="497.1" y2="152.5"/><line class="g" x1="539.7" y1="19.1" x2="539.7" y2="152.5"/><line class="g" x1="451" y1="25.1" x2="543.2" y2="25.1"/><line class="g" x1="451" y1="59.6" x2="543.2" y2="59.6"/><line class="g" x1="451" y1="94.1" x2="543.2" y2="94.1"/><line class="g" x1="451" y1="128.6" x2="543.2" y2="128.6"/>
<clipPath id="c3"><rect x="451" y="19.1" width="92.2" height="133.4"/></clipPath>
<g clip-path="url(#c3)"><polyline class="l" points="454.4,145.8 454.8,128.6 455.3,121.7 455.7,132.1 456.1,119.1 456.5,111.3 457,97.5 457.4,47.4 457.8,59.6 458.2,49.2 458.7,73.4 459.1,52.7 459.5,76.8 459.9,80.6 460.4,71.7 460.8,59.6 461.2,69.4 461.7,56.6 462.1,64.3 462.5,41.4 462.9,53.5 463.4,40.3 463.8,43.6 464.2,41 464.6,57.6 465.1,59.5 465.5,46.3 465.9,33.2 466.3,42.9 466.8,51.1 467.2,48.1 467.6,37.8 468,48.2 468.5,58.5 468.9,57.2 469.3,47.6 469.8,48.1 470.2,45.2 470.6,51.1 471,44.9 471.5,51.2 471.9,27.2 472.3,41.9 472.7,73.6 473.2,42.4 473.6,48.5 474,43.9 474.4,54.7 474.9,47.1 475.3,45.4 475.7,38.6 476.2,51.9 476.6,45 477,56.2 477.4,30.3 477.9,56.4 478.3,37.9 478.7,67.9 479.1,40.1 479.6,50.4 480,38.2 480.4,50.7 480.8,52.6 481.3,46.5 481.7,39.7 482.1,39.3 482.5,45.9 483,34.2 483.4,45.8 483.8,63.4 484.3,42.4 484.7,38.3 485.1,47.8 485.5,45.6 486,59 486.4,47.2 486.8,57.4 487.2,45.3 487.7,51.5 488.1,41.4 488.5,59.4 488.9,35.5 489.4,43.5 489.8,47.7 490.2,46.2 490.7,39.4 491.1,48.3 491.5,40.2 491.9,47.7 492.4,37.3 492.8,43.8 493.2,56.3 493.6,50.7 494.1,31.1 494.5,50.5 494.9,53.7 495.3,47.2 495.8,48.7 496.2,43.8 496.6,47.3 497.1,63.4 497.5,47.4 497.9,47.3 498.3,38.1 498.8,36.7 499.2,43.4 499.6,53.6 500,41.3 500.5,42.3 500.9,39.5 501.3,48.6 501.7,54 502.2,43.5 502.6,52.7 503,32.9 503.4,40.1 503.9,47.3 504.3,58.4 504.7,51.7 505.2,37.2 505.6,46.2 506,40.6 506.4,40.8 506.9,36.5 507.3,36.6 507.7,54.1 508.1,54.5 508.6,44.6 509,56.3 509.4,42.5 509.8,44.8 510.3,42.3 510.7,46.5 511.1,49.6 511.6,37 512,41.1 512.4,54.5 512.8,52.8 513.3,42.8 513.7,49.2 514.1,47 514.5,40 515,48 515.4,37.3 515.8,41.1 516.2,44.2 516.7,51.1 517.1,46.9 517.5,40.3 517.9,36.1 518.4,29.6 518.8,51.9 519.2,61.5 519.7,38.9 520.1,52.7 520.5,39 520.9,39.8 521.4,41.6 521.8,48 522.2,58.4 522.6,47.5 523.1,38.7 523.5,48.2 523.9,48.2 524.3,33.2 524.8,37.2 525.2,36.3 525.6,39.3 526.1,52.5 526.5,52.4 526.9,43.8 527.3,38.3 527.8,37.8 528.2,42.3 528.6,36.5 529,51.2 529.5,24.1 529.9,47.9 530.3,54.4 530.7,48.2 531.2,51.7 531.6,47 532,53.3 532.4,44 532.9,36.6 533.3,45.7 533.7,42.4 534.2,42.6 534.6,36.8 535,40.4 535.4,52.4 535.9,47.6 536.3,37.2 536.7,50.3 537.1,46.2 537.6,40.2 538,47.6 538.4,37.5 538.8,26.1 539.3,44.2"/>
<g class="m"><circle cx="454.4" cy="145.8" r="2.1"/><circle cx="454.8" cy="128.6" r="2.1"/><circle cx="455.3" cy="121.7" r="2.1"/><circle cx="455.7" cy="132.1" r="2.1"/><circle cx="456.1" cy="119.1" r="2.1"/><circle cx="456.5" cy="111.3" r="2.1"/><circle cx="457" cy="97.5" r="2.1"/><circle cx="457.4" cy="47.4" r="2.1"/><circle cx="457.8" cy="59.6" r="2.1"/><circle cx="458.2" cy="49.2" r="2.1"/><circle cx="458.7" cy="73.4" r="2.1"/><circle cx="459.1" cy="52.7" r="2.1"/><circle cx="459.5" cy="76.8" r="2.1"/><circle cx="459.9" cy="80.6" r="2.1"/><circle cx="460.4" cy="71.7" r="2.1"/><circle cx="460.8" cy="59.6" r="2.1"/><circle cx="461.2" cy="69.4" r="2.1"/><circle cx="461.7" cy="56.6" r="2.1"/><circle cx="462.1" cy="64.3" r="2.1"/><circle cx="462.5" cy="41.4" r="2.1"/><circle cx="462.9" cy="53.5" r="2.1"/><circle cx="463.4" cy="40.3" r="2.1"/><circle cx="463.8" cy="43.6" r="2.1"/><circle cx="464.2" cy="41" r="2.1"/><circle cx="464.6" cy="57.6" r="2.1"/><circle cx="465.1" cy="59.5" r="2.1"/><circle cx="465.5" cy="46.3" r="2.1"/><circle cx="465.9" cy="33.2" r="2.1"/><circle cx="466.3" cy="42.9" r="2.1"/><circle cx="466.8" cy="51.1" r="2.1"/><circle cx="467.2" cy="48.1" r="2.1"/><circle cx="467.6" cy="37.8" r="2.1"/><circle cx="468" cy="48.2" r="2.1"/><circle cx="468.5" cy="58.5" r="2.1"/><circle cx="468.9" cy="57.2" r="2.1"/><circle cx="469.3" cy="47.6" r="2.1"/><circle cx="469.8" cy="48.1" r="2.1"/><circle cx="470.2" cy="45.2" r="2.1"/><circle cx="470.6" cy="51.1" r="2.1"/><circle cx="471" cy="44.9" r="2.1"/><circle cx="471.5" cy="51.2" r="2.1"/><circle cx="471.9" cy="27.2" r="2.1"/><circle cx="472.3" cy="41.9" r="2.1"/><circle cx="472.7" cy="73.6" r="2.1"/><circle cx="473.2" cy="42.4" r="2.1"/><circle cx="473.6" cy="48.5" r="2.1"/><circle cx="474" cy="43.9" r="2.1"/><circle cx="474.4" cy="54.7" r="2.1"/><circle cx="474.9" cy="47.1" r="2.1"/><circle cx="475.3" cy="45.4" r="2.1"/><circle cx="475.7" cy="38.6" r="2.1"/><circle cx="476.2" cy="51.9" r="2.1"/><circle cx="476.6" cy="45" r="2.1"/><circle cx="477" cy="56.2" r="2.1"/><circle cx="477.4" cy="30.3" r="2.1"/><circle cx="477.9" cy="56.4" r="2.1"/><circle cx="478.3" cy="37.9" r="2.1"/><circle cx="478.7" cy="67.9" r="2.1"/><circle cx="479.1" cy="40.1" r="2.1"/><circle cx="479.6" cy="50.4" r="2.1"/><circle cx="480" cy="38.2" r="2.1"/><circle cx="480.4" cy="50.7" r="2.1"/><circle cx="480.8" cy="52.6" r="2.1"/><circle cx="481.3" cy="46.5" r="2.1"/><circle cx="481.7" cy="39.7" r="2.1"/><circle cx="482.1" cy="39.3" r="2.1"/><circle cx="482.5" cy="45.9" r="2.1"/><circle cx="483" cy="34.2" r="2.1"/><circle cx="483.4" cy="45.8" r="2.1"/><circle cx="483.8" cy="63.4" r="2.1"/><circle cx="484.3" cy="42.4" r="2.1"/><circle cx="484.7" cy="38.3" r="2.1"/><circle cx="485.1" cy="47.8" r="2.1"/><circle cx="485.5" cy="45.6" r="2.1"/><circle cx="486" cy="59" r="2.1"/><circle cx="486.4" cy="47.2" r="2.1"/><circle cx="486.8" cy="57.4" r="2.1"/><circle cx="487.2" cy="45.3" r="2.1"/><circle cx="487.7" cy="51.5" r="2.1"/><circle cx="488.1" cy="41.4" r="2.1"/><circle cx="488.5" cy="59.4" r="2.1"/><circle cx="488.9" cy="35.5" r="2.1"/><circle cx="489.4" cy="43.5" r="2.1"/><circle cx="489.8" cy="47.7" r="2.1"/><circle cx="490.2" cy="46.2" r="2.1"/><circle cx="490.7" cy="39.4" r="2.1"/><circle cx="491.1" cy="48.3" r="2.1"/><circle cx="491.5" cy="40.2" r="2.1"/><circle cx="491.9" cy="47.7" r="2.1"/><circle cx="492.4" cy="37.3" r="2.1"/><circle cx="492.8" cy="43.8" r="2.1"/><circle cx="493.2" cy="56.3" r="2.1"/><circle cx="493.6" cy="50.7" r="2.1"/><circle cx="494.1" cy="31.1" r="2.1"/><circle cx="494.5" cy="50.5" r="2.1"/><circle cx="494.9" cy="53.7" r="2.1"/><circle cx="495.3" cy="47.2" r="2.1"/><circle cx="495.8" cy="48.7" r="2.1"/><circle cx="496.2" cy="43.8" r="2.1"/><circle cx="496.6" cy="47.3" r="2.1"/><circle cx="497.1" cy="63.4" r="2.1"/><circle cx="497.5" cy="47.4" r="2.1"/><circle cx="497.9" cy="47.3" r="2.1"/><circle cx="498.3" cy="38.1" r="2.1"/><circle cx="498.8" cy="36.7" r="2.1"/><circle cx="499.2" cy="43.4" r="2.1"/><circle cx="499.6" cy="53.6" r="2.1"/><circle cx="500" cy="41.3" r="2.1"/><circle cx="500.5" cy="42.3" r="2.1"/><circle cx="500.9" cy="39.5" r="2.1"/><circle cx="501.3" cy="48.6" r="2.1"/><circle cx="501.7" cy="54" r="2.1"/><circle cx="502.2" cy="43.5" r="2.1"/><circle cx="502.6" cy="52.7" r="2.1"/><circle cx="503" cy="32.9" r="2.1"/><circle cx="503.4" cy="40.1" r="2.1"/><circle cx="503.9" cy="47.3" r="2.1"/><circle cx="504.3" cy="58.4" r="2.1"/><circle cx="504.7" cy="51.7" r="2.1"/><circle cx="505.2" cy="37.2" r="2.1"/><circle cx="505.6" cy="46.2" r="2.1"/><circle cx="506" cy="40.6" r="2.1"/><circle cx="506.4" cy="40.8" r="2.1"/><circle cx="506.9" cy="36.5" r="2.1"/><circle cx="507.3" cy="36.6" r="2.1"/><circle cx="507.7" cy="54.1" r="2.1"/><circle cx="508.1" cy="54.5" r="2.1"/><circle cx="508.6" cy="44.6" r="2.1"/><circle cx="509" cy="56.3" r="2.1"/><circle cx="509.4" cy="42.5" r="2.1"/><circle cx="509.8" cy="44.8" r="2.1"/><circle cx="510.3" cy="42.3" r="2.1"/><circle cx="510.7" cy="46.5" r="2.1"/><circle cx="511.1" cy="49.6" r="2.1"/><circle cx="511.6" cy="37" r="2.1"/><circle cx="512" cy="41.1" r="2.1"/><circle cx="512.4" cy="54.5" r="2.1"/><circle cx="512.8" cy="52.8" r="2.1"/><circle cx="513.3" cy="42.8" r="2.1"/><circle cx="513.7" cy="49.2" r="2.1"/><circle cx="514.1" cy="47" r="2.1"/><circle cx="514.5" cy="40" r="2.1"/><circle cx="515" cy="48" r="2.1"/><circle cx="515.4" cy="37.3" r="2.1"/><circle cx="515.8" cy="41.1" r="2.1"/><circle cx="516.2" cy="44.2" r="2.1"/><circle cx="516.7" cy="51.1" r="2.1"/><circle cx="517.1" cy="46.9" r="2.1"/><circle cx="517.5" cy="40.3" r="2.1"/><circle cx="517.9" cy="36.1" r="2.1"/><circle cx="518.4" cy="29.6" r="2.1"/><circle cx="518.8" cy="51.9" r="2.1"/><circle cx="519.2" cy="61.5" r="2.1"/><circle cx="519.7" cy="38.9" r="2.1"/><circle cx="520.1" cy="52.7" r="2.1"/><circle cx="520.5" cy="39" r="2.1"/><circle cx="520.9" cy="39.8" r="2.1"/><circle cx="521.4" cy="41.6" r="2.1"/><circle cx="521.8" cy="48" r="2.1"/><circle cx="522.2" cy="58.4" r="2.1"/><circle cx="522.6" cy="47.5" r="2.1"/><circle cx="523.1" cy="38.7" r="2.1"/><circle cx="523.5" cy="48.2" r="2.1"/><circle cx="523.9" cy="48.2" r="2.1"/><circle cx="524.3" cy="33.2" r="2.1"/><circle cx="524.8" cy="37.2" r="2.1"/><circle cx="525.2" cy="36.3" r="2.1"/><circle cx="525.6" cy="39.3" r="2.1"/><circle cx="526.1" cy="52.5" r="2.1"/><circle cx="526.5" cy="52.4" r="2.1"/><circle cx="526.9" cy="43.8" r="2.1"/><circle cx="527.3" cy="38.3" r="2.1"/><circle cx="527.8" cy="37.8" r="2.1"/><circle cx="528.2" cy="42.3" r="2.1"/><circle cx="528.6" cy="36.5" r="2.1"/><circle cx="529" cy="51.2" r="2.1"/><circle cx="529.5" cy="24.1" r="2.1"/><circle cx="529.9" cy="47.9" r="2.1"/><circle cx="530.3" cy="54.4" r="2.1"/><circle cx="530.7" cy="48.2" r="2.1"/><circle cx="531.2" cy="51.7" r="2.1"/><circle cx="531.6" cy="47" r="2.1"/><circle cx="532" cy="53.3" r="2.1"/><circle cx="532.4" cy="44" r="2.1"/><circle cx="532.9" cy="36.6" r="2.1"/><circle cx="533.3" cy="45.7" r="2.1"/><circle cx="533.7" cy="42.4" r="2.1"/><circle cx="534.2" cy="42.6" r="2.1"/><circle cx="534.6" cy="36.8" r="2.1"/><circle cx="535" cy="40.4" r="2.1"/><circle cx="535.4" cy="52.4" r="2.1"/><circle cx="535.9" cy="47.6" r="2.1"/><circle cx="536.3" cy="37.2" r="2.1"/><circle cx="536.7" cy="50.3" r="2.1"/><circle cx="537.1" cy="46.2" r="2.1"/><circle cx="537.6" cy="40.2" r="2.1"/><circle cx="538" cy="47.6" r="2.1"/><circle cx="538.4" cy="37.5" r="2.1"/><circle cx="538.8" cy="26.1" r="2.1"/><circle cx="539.3" cy="44.2" r="2.1"/></g></g>
<text class="t" x="497.1" y="13.2">Recall</text>
<text class="y" x="441.7" y="28.2">0.8</text><text class="y" x="441.7" y="62.7">0.6</text><text class="y" x="441.7" y="97.2">0.4</text><text class="y" x="441.7" y="131.7">0.2</text>
<text class="x" x="454.4" y="167.4">0</text><text class="x" x="497.1" y="167.4">100</text><text class="x" x="539.7" y="167.4">200</text>
</g>
<g>
<rect x="32.6" y="193.2" width="92.3" height="133.2" fill="#e8ebf3"/>
<line class="g" x1="36" y1="193.2" x2="36" y2="326.4"/><line class="g" x1="78.7" y1="193.2" x2="78.7" y2="326.4"/><line class="g" x1="121.4" y1="193.2" x2="121.4" y2="326.4"/><line class="g" x1="32.6" y1="197.7" x2="124.9" y2="197.7"/><line class="g" x1="32.6" y1="230.3" x2="124.9" y2="230.3"/><line class="g" x1="32.6" y1="262.9" x2="124.9" y2="262.9"/><line class="g" x1="32.6" y1="295.5" x2="124.9" y2="295.5"/>
<clipPath id="c4"><rect x="32.6" y="193.2" width="92.3" height="133.2"/></clipPath>
<g clip-path="url(#c4)"><polyline class="l" points="36,212.7 36.4,218.2 36.9,240.4 37.3,228.3 37.7,198 38.1,207.2 38.6,256.1 39,218.2 39.4,236.8 39.8,227 40.3,241.7 40.7,228.3 41.1,243.3 41.6,235.2 42,254.1 42.4,249.5 42.8,288.3 43.3,296.5 43.7,298.3 44.1,299.4 44.5,305.5 45,308.8 45.4,311.9 45.8,313 46.2,316.7 46.7,307.2 47.1,306.8 47.5,306.1 48,302.2 48.4,300.8 48.8,295.8 49.2,299 49.7,295.9 50.1,296.8 50.5,297.4 50.9,297 51.4,297.8 51.8,286.2 52.2,283.5 52.7,270.8 53.1,271.4 53.5,280.4 53.9,285.7 54.4,290.3 54.8,296.4 55.2,298.4 55.6,294 56.1,292.2 56.5,291.6 56.9,292.4 57.4,287.4 57.8,291.8 58.2,299.2 58.6,299.1 59.1,296.2 59.5,287.3 59.9,288.5 60.3,286.7 60.8,289.2 61.2,299 61.6,307.9 62,307 62.5,311.1 62.9,314.4 63.3,314.4 63.8,315.8 64.2,315 64.6,317.5 65,320.6 65.5,320.3 65.9,319.4 66.3,311.4 66.7,306.8 67.2,306.9 67.6,308.3 68,308.6 68.5,302.6 68.9,303.2 69.3,303.8 69.7,302.5 70.2,295.1 70.6,298.1 71,297.1 71.4,296.3 71.9,295 72.3,294.1 72.7,298.4 73.1,298.8 73.6,301 74,301.9 74.4,297.8 74.9,302 75.3,302.4 75.7,304.2 76.1,304.4 76.6,301 77,303.8 77.4,304.6 77.8,302.4 78.3,302.2 78.7,300.6 79.1,301.2 79.6,305.6 80,299.9 80.4,298.5 80.8,296.3 81.3,299.9 81.7,292.1 82.1,298.7 82.5,294.7 83,295 83.4,295.7 83.8,292.2 84.3,293.6 84.7,297.9 85.1,295.9 85.5,291.2 86,285.8 86.4,292.6 86.8,291.1 87.2,287.9 87.7,289.4 88.1,292.2 88.5,295.3 88.9,297 89.4,295.4 89.8,294.5 90.2,298.4 90.7,299.4 91.1,296.1 91.5,297.9 91.9,299.8 92.4,300.4 92.8,302.3 93.2,299.8 93.6,298.7 94.1,298.9 94.5,300.7 94.9,300.7 95.4,298.8 95.8,297.5 96.2,297.4 96.6,297.6 97.1,301 97.5,303.3 97.9,298.2 98.3,298.8 98.8,298.4 99.2,299.6 99.6,300.2 100.1,294.5 100.5,294.8 100.9,298.6 101.3,297.1 101.8,297.4 102.2,297.6 102.6,295 103,299.2 103.5,303 103.9,301.8 104.3,302.4 104.7,299.9 105.2,299.8 105.6,299.3 106,300.7 106.5,298.8 106.9,299.9 107.3,298 107.7,299.7 108.2,302 108.6,299.9 109,302.1 109.4,299 109.9,300.7 110.3,301.4 110.7,302.6 111.2,303 111.6,307 112,301.7 112.4,304.2 112.9,301.6 113.3,303.8 113.7,303.4 114.1,303.5 114.6,304.9 115,303.7 115.4,302.3 115.8,303.6 116.3,305.2 116.7,304.2 117.1,302.4 117.6,300.4 118,300.3 118.4,301 118.8,303 119.3,300.2 119.7,300.8 120.1,301.2 120.5,299.2 121,299.1"/>
<g class="m"><circle cx="36" cy="212.7" r="2.1"/><circle cx="36.4" cy="218.2" r="2.1"/><circle cx="36.9" cy="240.4" r="2.1"/><circle cx="37.3" cy="228.3" r="2.1"/><circle cx="37.7" cy="198" r="2.1"/><circle cx="38.1" cy="207.2" r="2.1"/><circle cx="38.6" cy="256.1" r="2.1"/><circle cx="39" cy="218.2" r="2.1"/><circle cx="39.4" cy="236.8" r="2.1"/><circle cx="39.8" cy="227" r="2.1"/><circle cx="40.3" cy="241.7" r="2.1"/><circle cx="40.7" cy="228.3" r="2.1"/><circle cx="41.1" cy="243.3" r="2.1"/><circle cx="41.6" cy="235.2" r="2.1"/><circle cx="42" cy="254.1" r="2.1"/><circle cx="42.4" cy="249.5" r="2.1"/><circle cx="42.8" cy="288.3" r="2.1"/><circle cx="43.3" cy="296.5" r="2.1"/><circle cx="43.7" cy="298.3" r="2.1"/><circle cx="44.1" cy="299.4" r="2.1"/><circle cx="44.5" cy="305.5" r="2.1"/><circle cx="45" cy="308.8" r="2.1"/><circle cx="45.4" cy="311.9" r="2.1"/><circle cx="45.8" cy="313" r="2.1"/><circle cx="46.2" cy="316.7" r="2.1"/><circle cx="46.7" cy="307.2" r="2.1"/><circle cx="47.1" cy="306.8" r="2.1"/><circle cx="47.5" cy="306.1" r="2.1"/><circle cx="48" cy="302.2" r="2.1"/><circle cx="48.4" cy="300.8" r="2.1"/><circle cx="48.8" cy="295.8" r="2.1"/><circle cx="49.2" cy="299" r="2.1"/><circle cx="49.7" cy="295.9" r="2.1"/><circle cx="50.1" cy="296.8" r="2.1"/><circle cx="50.5" cy="297.4" r="2.1"/><circle cx="50.9" cy="297" r="2.1"/><circle cx="51.4" cy="297.8" r="2.1"/><circle cx="51.8" cy="286.2" r="2.1"/><circle cx="52.2" cy="283.5" r="2.1"/><circle cx="52.7" cy="270.8" r="2.1"/><circle cx="53.1" cy="271.4" r="2.1"/><circle cx="53.5" cy="280.4" r="2.1"/><circle cx="53.9" cy="285.7" r="2.1"/><circle cx="54.4" cy="290.3" r="2.1"/><circle cx="54.8" cy="296.4" r="2.1"/><circle cx="55.2" cy="298.4" r="2.1"/><circle cx="55.6" cy="294" r="2.1"/><circle cx="56.1" cy="292.2" r="2.1"/><circle cx="56.5" cy="291.6" r="2.1"/><circle cx="56.9" cy="292.4" r="2.1"/><circle cx="57.4" cy="287.4" r="2.1"/><circle cx="57.8" cy="291.8" r="2.1"/><circle cx="58.2" cy="299.2" r="2.1"/><circle cx="58.6" cy="299.1" r="2.1"/><circle cx="59.1" cy="296.2" r="2.1"/><circle cx="59.5" cy="287.3" r="2.1"/><circle cx="59.9" cy="288.5" r="2.1"/><circle cx="60.3" cy="286.7" r="2.1"/><circle cx="60.8" cy="289.2" r="2.1"/><circle cx="61.2" cy="299" r="2.1"/><circle cx="61.6" cy="307.9" r="2.1"/><circle cx="62" cy="307" r="2.1"/><circle cx="62.5" cy="311.1" r="2.1"/><circle cx="62.9" cy="314.4" r="2.1"/><circle cx="63.3" cy="314.4" r="2.1"/><circle cx="63.8" cy="315.8" r="2.1"/><circle cx="64.2" cy="315" r="2.1"/><circle cx="64.6" cy="317.5" r="2.1"/><circle cx="65" cy="320.6" r="2.1"/><circle cx="65.5" cy="320.3" r="2.1"/><circle cx="65.9" cy="319.4" r="2.1"/><circle cx="66.3" cy="311.4" r="2.1"/><circle cx="66.7" cy="306.8" r="2.1"/><circle cx="67.2" cy="306.9" r="2.1"/><circle cx="67.6" cy="308.3" r="2.1"/><circle cx="68" cy="308.6" r="2.1"/><circle cx="68.5" cy="302.6" r="2.1"/><circle cx="68.9" cy="303.2" r="2.1"/><circle cx="69.3" cy="303.8" r="2.1"/><circle cx="69.7" cy="302.5" r="2.1"/><circle cx="70.2" cy="295.1" r="2.1"/><circle cx="70.6" cy="298.1" r="2.1"/><circle cx="71" cy="297.1" r="2.1"/><circle cx="71.4" cy="296.3" r="2.1"/><circle cx="71.9" cy="295" r="2.1"/><circle cx="72.3" cy="294.1" r="2.1"/><circle cx="72.7" cy="298.4" r="2.1"/><circle cx="73.1" cy="298.8" r="2.1"/><circle cx="73.6" cy="301" r="2.1"/><circle cx="74" cy="301.9" r="2.1"/><circle cx="74.4" cy="297.8" r="2.1"/><circle cx="74.9" cy="302" r="2.1"/><circle cx="75.3" cy="302.4" r="2.1"/><circle cx="75.7" cy="304.2" r="2.1"/><circle cx="76.1" cy="304.4" r="2.1"/><circle cx="76.6" cy="301" r="2.1"/><circle cx="77" cy="303.8" r="2.1"/><circle cx="77.4" cy="304.6" r="2.1"/><circle cx="77.8" cy="302.4" r="2.1"/><circle cx="78.3" cy="302.2" r="2.1"/><circle cx="78.7" cy="300.6" r="2.1"/><circle cx="79.1" cy="301.2" r="2.1"/><circle cx="79.6" cy="305.6" r="2.1"/><circle cx="80" cy="299.9" r="2.1"/><circle cx="80.4" cy="298.5" r="2.1"/><circle cx="80.8" cy="296.3" r="2.1"/><circle cx="81.3" cy="299.9" r="2.1"/><circle cx="81.7" cy="292.1" r="2.1"/><circle cx="82.1" cy="298.7" r="2.1"/><circle cx="82.5" cy="294.7" r="2.1"/><circle cx="83" cy="295" r="2.1"/><circle cx="83.4" cy="295.7" r="2.1"/><circle cx="83.8" cy="292.2" r="2.1"/><circle cx="84.3" cy="293.6" r="2.1"/><circle cx="84.7" cy="297.9" r="2.1"/><circle cx="85.1" cy="295.9" r="2.1"/><circle cx="85.5" cy="291.2" r="2.1"/><circle cx="86" cy="285.8" r="2.1"/><circle cx="86.4" cy="292.6" r="2.1"/><circle cx="86.8" cy="291.1" r="2.1"/><circle cx="87.2" cy="287.9" r="2.1"/><circle cx="87.7" cy="289.4" r="2.1"/><circle cx="88.1" cy="292.2" r="2.1"/><circle cx="88.5" cy="295.3" r="2.1"/><circle cx="88.9" cy="297" r="2.1"/><circle cx="89.4" cy="295.4" r="2.1"/><circle cx="89.8" cy="294.5" r="2.1"/><circle cx="90.2" cy="298.4" r="2.1"/><circle cx="90.7" cy="299.4" r="2.1"/><circle cx="91.1" cy="296.1" r="2.1"/><circle cx="91.5" cy="297.9" r="2.1"/><circle cx="91.9" cy="299.8" r="2.1"/><circle cx="92.4" cy="300.4" r="2.1"/><circle cx="92.8" cy="302.3" r="2.1"/><circle cx="93.2" cy="299.8" r="2.1"/><circle cx="93.6" cy="298.7" r="2.1"/><circle cx="94.1" cy="298.9" r="2.1"/><circle cx="94.5" cy="300.7" r="2.1"/><circle cx="94.9" cy="300.7" r="2.1"/><circle cx="95.4" cy="298.8" r="2.1"/><circle cx="95.8" cy="297.5" r="2.1"/><circle cx="96.2" cy="297.4" r="2.1"/><circle cx="96.6" cy="297.6" r="2.1"/><circle cx="97.1" cy="301" r="2.1"/><circle cx="97.5" cy="303.3" r="2.1"/><circle cx="97.9" cy="298.2" r="2.1"/><circle cx="98.3" cy="298.8" r="2.1"/><circle cx="98.8" cy="298.4" r="2.1"/><circle cx="99.2" cy="299.6" r="2.1"/><circle cx="99.6" cy="300.2" r="2.1"/><circle cx="100.1" cy="294.5" r="2.1"/><circle cx="100.5" cy="294.8" r="2.1"/><circle cx="100.9" cy="298.6" r="2.1"/><circle cx="101.3" cy="297.1" r="2.1"/><circle cx="101.8" cy="297.4" r="2.1"/><circle cx="102.2" cy="297.6" r="2.1"/><circle cx="102.6" cy="295" r="2.1"/><circle cx="103" cy="299.2" r="2.1"/><circle cx="103.5" cy="303" r="2.1"/><circle cx="103.9" cy="301.8" r="2.1"/><circle cx="104.3" cy="302.4" r="2.1"/><circle cx="104.7" cy="299.9" r="2.1"/><circle cx="105.2" cy="299.8" r="2.1"/><circle cx="105.6" cy="299.3" r="2.1"/><circle cx="106" cy="300.7" r="2.1"/><circle cx="106.5" cy="298.8" r="2.1"/><circle cx="106.9" cy="299.9" r="2.1"/><circle cx="107.3" cy="298" r="2.1"/><circle cx="107.7" cy="299.7" r="2.1"/><circle cx="108.2" cy="302" r="2.1"/><circle cx="108.6" cy="299.9" r="2.1"/><circle cx="109" cy="302.1" r="2.1"/><circle cx="109.4" cy="299" r="2.1"/><circle cx="109.9" cy="300.7" r="2.1"/><circle cx="110.3" cy="301.4" r="2.1"/><circle cx="110.7" cy="302.6" r="2.1"/><circle cx="111.2" cy="303" r="2.1"/><circle cx="111.6" cy="307" r="2.1"/><circle cx="112" cy="301.7" r="2.1"/><circle cx="112.4" cy="304.2" r="2.1"/><circle cx="112.9" cy="301.6" r="2.1"/><circle cx="113.3" cy="303.8" r="2.1"/><circle cx="113.7" cy="303.4" r="2.1"/><circle cx="114.1" cy="303.5" r="2.1"/><circle cx="114.6" cy="304.9" r="2.1"/><circle cx="115" cy="303.7" r="2.1"/><circle cx="115.4" cy="302.3" r="2.1"/><circle cx="115.8" cy="303.6" r="2.1"/><circle cx="116.3" cy="305.2" r="2.1"/><circle cx="116.7" cy="304.2" r="2.1"/><circle cx="117.1" cy="302.4" r="2.1"/><circle cx="117.6" cy="300.4" r="2.1"/><circle cx="118" cy="300.3" r="2.1"/><circle cx="118.4" cy="301" r="2.1"/><circle cx="118.8" cy="303" r="2.1"/><circle cx="119.3" cy="300.2" r="2.1"/><circle cx="119.7" cy="300.8" r="2.1"/><circle cx="120.1" cy="301.2" r="2.1"/><circle cx="120.5" cy="299.2" r="2.1"/><circle cx="121" cy="299.1" r="2.1"/></g></g>
<text class="t" x="78.8" y="187.3">val Box</text>
<text class="y" x="23.3" y="200.8">0.10</text><text class="y" x="23.3" y="233.4">0.09</text><text class="y" x="23.3" y="266">0.08</text><text class="y" x="23.3" y="298.6">0.07</text>
<text class="x" x="36" y="341.3">0</text><text class="x" x="78.7" y="341.3">100</text><text class="x" x="121.4" y="341.3">200</text>
</g>
<g>
<rect x="176.2" y="193.2" width="92.1" height="133.2" fill="#e8ebf3"/>
<line class="g" x1="179.6" y1="193.2" x2="179.6" y2="326.4"/><line class="g" x1="222.2" y1="193.2" x2="222.2" y2="326.4"/><line class="g" x1="264.8" y1="193.2" x2="264.8" y2="326.4"/><line class="g" x1="176.2" y1="198.5" x2="268.3" y2="198.5"/><line class="g" x1="176.2" y1="222.3" x2="268.3" y2="222.3"/><line class="g" x1="176.2" y1="246.1" x2="268.3" y2="246.1"/><line class="g" x1="176.2" y1="269.8" x2="268.3" y2="269.8"/><line class="g" x1="176.2" y1="293.5" x2="268.3" y2="293.5"/><line class="g" x1="176.2" y1="317.2" x2="268.3" y2="317.2"/>
<clipPath id="c5"><rect x="176.2" y="193.2" width="92.1" height="133.2"/></clipPath>
<g clip-path="url(#c5)"><polyline class="l" points="179.6,295.7 180,312.5 180.5,273.5 180.9,311.2 181.3,307.9 181.7,309.9 182.2,287.4 182.6,291.3 183,294.3 183.4,279 183.9,287.1 184.3,270.7 184.7,263.2 185.1,276.9 185.6,272.3 186,320.7 186.4,260.4 186.8,231.7 187.3,303 187.7,255.5 188.1,291.7 188.5,257.8 189,253.1 189.4,242.2 189.8,256.6 190.2,263.4 190.7,280.4 191.1,245.9 191.5,268.4 192,275.8 192.4,255.2 192.8,243.9 193.2,225.8 193.7,256.5 194.1,259.2 194.5,254.3 194.9,245.5 195.4,268.3 195.8,271.9 196.2,265.8 196.6,252.3 197.1,253 197.5,288.7 197.9,242.5 198.3,229.3 198.8,265.5 199.2,252.7 199.6,276 200,263.9 200.5,229.3 200.9,249.9 201.3,266.8 201.8,269.8 202.2,257 202.6,258.5 203,239.3 203.5,254.9 203.9,242.2 204.3,198.1 204.7,221.6 205.2,211.1 205.6,209.4 206,217 206.4,242.4 206.9,227 207.3,232.9 207.7,236.1 208.1,225.4 208.6,212.7 209,229.2 209.4,246.9 209.8,230.3 210.3,220.3 210.7,246.5 211.1,226.3 211.6,241.5 212,249.2 212.4,235.5 212.8,250 213.3,238 213.7,224.6 214.1,255 214.5,233.1 215,255.6 215.4,245.8 215.8,250.5 216.2,244 216.7,241 217.1,246.6 217.5,247.6 217.9,256.3 218.4,246.3 218.8,254.9 219.2,250.2 219.6,257.7 220.1,253.2 220.5,244.5 220.9,249 221.3,249 221.8,251.2 222.2,245.3 222.6,251.5 223.1,252.7 223.5,237.4 223.9,249.7 224.3,242.5 224.8,250.8 225.2,234.3 225.6,244.3 226,255 226.5,247 226.9,246.2 227.3,242.8 227.7,246.3 228.2,247.8 228.6,252.7 229,259.8 229.4,248.2 229.9,260.8 230.3,252.7 230.7,252.7 231.1,260 231.6,261 232,253.2 232.4,254.9 232.9,258 233.3,262.4 233.7,253.2 234.1,265 234.6,263.6 235,259.6 235.4,259.1 235.8,261 236.3,262.8 236.7,251.5 237.1,257.4 237.5,259.8 238,255.5 238.4,259.6 238.8,250.4 239.2,256 239.7,253.9 240.1,248.7 240.5,257.9 240.9,259.8 241.4,248.7 241.8,254.4 242.2,248.7 242.6,248.9 243.1,252.7 243.5,262.5 243.9,254 244.4,259.1 244.8,260.8 245.2,257.4 245.6,259.7 246.1,251.9 246.5,249.6 246.9,261.9 247.3,258.8 247.8,258.6 248.2,260 248.6,249 249,258.2 249.5,256.5 249.9,260.5 250.3,257.7 250.7,248.7 251.2,247.3 251.6,251.3 252,256.1 252.4,259.2 252.9,247.7 253.3,257.5 253.7,243.3 254.2,251.5 254.6,255.6 255,247.3 255.4,252 255.9,252.2 256.3,246.7 256.7,246.7 257.1,255.3 257.6,258.2 258,250.1 258.4,244.4 258.8,258.5 259.3,257.5 259.7,254 260.1,257.5 260.5,256.7 261,251.4 261.4,254.5 261.8,257.9 262.2,257.1 262.7,251.3 263.1,259.1 263.5,254.4 263.9,254.7 264.4,258.3"/>
<g class="m"><circle cx="179.6" cy="295.7" r="2.1"/><circle cx="180" cy="312.5" r="2.1"/><circle cx="180.5" cy="273.5" r="2.1"/><circle cx="180.9" cy="311.2" r="2.1"/><circle cx="181.3" cy="307.9" r="2.1"/><circle cx="181.7" cy="309.9" r="2.1"/><circle cx="182.2" cy="287.4" r="2.1"/><circle cx="182.6" cy="291.3" r="2.1"/><circle cx="183" cy="294.3" r="2.1"/><circle cx="183.4" cy="279" r="2.1"/><circle cx="183.9" cy="287.1" r="2.1"/><circle cx="184.3" cy="270.7" r="2.1"/><circle cx="184.7" cy="263.2" r="2.1"/><circle cx="185.1" cy="276.9" r="2.1"/><circle cx="185.6" cy="272.3" r="2.1"/><circle cx="186" cy="320.7" r="2.1"/><circle cx="186.4" cy="260.4" r="2.1"/><circle cx="186.8" cy="231.7" r="2.1"/><circle cx="187.3" cy="303" r="2.1"/><circle cx="187.7" cy="255.5" r="2.1"/><circle cx="188.1" cy="291.7" r="2.1"/><circle cx="188.5" cy="257.8" r="2.1"/><circle cx="189" cy="253.1" r="2.1"/><circle cx="189.4" cy="242.2" r="2.1"/><circle cx="189.8" cy="256.6" r="2.1"/><circle cx="190.2" cy="263.4" r="2.1"/><circle cx="190.7" cy="280.4" r="2.1"/><circle cx="191.1" cy="245.9" r="2.1"/><circle cx="191.5" cy="268.4" r="2.1"/><circle cx="192" cy="275.8" r="2.1"/><circle cx="192.4" cy="255.2" r="2.1"/><circle cx="192.8" cy="243.9" r="2.1"/><circle cx="193.2" cy="225.8" r="2.1"/><circle cx="193.7" cy="256.5" r="2.1"/><circle cx="194.1" cy="259.2" r="2.1"/><circle cx="194.5" cy="254.3" r="2.1"/><circle cx="194.9" cy="245.5" r="2.1"/><circle cx="195.4" cy="268.3" r="2.1"/><circle cx="195.8" cy="271.9" r="2.1"/><circle cx="196.2" cy="265.8" r="2.1"/><circle cx="196.6" cy="252.3" r="2.1"/><circle cx="197.1" cy="253" r="2.1"/><circle cx="197.5" cy="288.7" r="2.1"/><circle cx="197.9" cy="242.5" r="2.1"/><circle cx="198.3" cy="229.3" r="2.1"/><circle cx="198.8" cy="265.5" r="2.1"/><circle cx="199.2" cy="252.7" r="2.1"/><circle cx="199.6" cy="276" r="2.1"/><circle cx="200" cy="263.9" r="2.1"/><circle cx="200.5" cy="229.3" r="2.1"/><circle cx="200.9" cy="249.9" r="2.1"/><circle cx="201.3" cy="266.8" r="2.1"/><circle cx="201.8" cy="269.8" r="2.1"/><circle cx="202.2" cy="257" r="2.1"/><circle cx="202.6" cy="258.5" r="2.1"/><circle cx="203" cy="239.3" r="2.1"/><circle cx="203.5" cy="254.9" r="2.1"/><circle cx="203.9" cy="242.2" r="2.1"/><circle cx="204.3" cy="198.1" r="2.1"/><circle cx="204.7" cy="221.6" r="2.1"/><circle cx="205.2" cy="211.1" r="2.1"/><circle cx="205.6" cy="209.4" r="2.1"/><circle cx="206" cy="217" r="2.1"/><circle cx="206.4" cy="242.4" r="2.1"/><circle cx="206.9" cy="227" r="2.1"/><circle cx="207.3" cy="232.9" r="2.1"/><circle cx="207.7" cy="236.1" r="2.1"/><circle cx="208.1" cy="225.4" r="2.1"/><circle cx="208.6" cy="212.7" r="2.1"/><circle cx="209" cy="229.2" r="2.1"/><circle cx="209.4" cy="246.9" r="2.1"/><circle cx="209.8" cy="230.3" r="2.1"/><circle cx="210.3" cy="220.3" r="2.1"/><circle cx="210.7" cy="246.5" r="2.1"/><circle cx="211.1" cy="226.3" r="2.1"/><circle cx="211.6" cy="241.5" r="2.1"/><circle cx="212" cy="249.2" r="2.1"/><circle cx="212.4" cy="235.5" r="2.1"/><circle cx="212.8" cy="250" r="2.1"/><circle cx="213.3" cy="238" r="2.1"/><circle cx="213.7" cy="224.6" r="2.1"/><circle cx="214.1" cy="255" r="2.1"/><circle cx="214.5" cy="233.1" r="2.1"/><circle cx="215" cy="255.6" r="2.1"/><circle cx="215.4" cy="245.8" r="2.1"/><circle cx="215.8" cy="250.5" r="2.1"/><circle cx="216.2" cy="244" r="2.1"/><circle cx="216.7" cy="241" r="2.1"/><circle cx="217.1" cy="246.6" r="2.1"/><circle cx="217.5" cy="247.6" r="2.1"/><circle cx="217.9" cy="256.3" r="2.1"/><circle cx="218.4" cy="246.3" r="2.1"/><circle cx="218.8" cy="254.9" r="2.1"/><circle cx="219.2" cy="250.2" r="2.1"/><circle cx="219.6" cy="257.7" r="2.1"/><circle cx="220.1" cy="253.2" r="2.1"/><circle cx="220.5" cy="244.5" r="2.1"/><circle cx="220.9" cy="249" r="2.1"/><circle cx="221.3" cy="249" r="2.1"/><circle cx="221.8" cy="251.2" r="2.1"/><circle cx="222.2" cy="245.3" r="2.1"/><circle cx="222.6" cy="251.5" r="2.1"/><circle cx="223.1" cy="252.7" r="2.1"/><circle cx="223.5" cy="237.4" r="2.1"/><circle cx="223.9" cy="249.7" r="2.1"/><circle cx="224.3" cy="242.5" r="2.1"/><circle cx="224.8" cy="250.8" r="2.1"/><circle cx="225.2" cy="234.3" r="2.1"/><circle cx="225.6" cy="244.3" r="2.1"/><circle cx="226" cy="255" r="2.1"/><circle cx="226.5" cy="247" r="2.1"/><circle cx="226.9" cy="246.2" r="2.1"/><circle cx="227.3" cy="242.8" r="2.1"/><circle cx="227.7" cy="246.3" r="2.1"/><circle cx="228.2" cy="247.8" r="2.1"/><circle cx="228.6" cy="252.7" r="2.1"/><circle cx="229" cy="259.8" r="2.1"/><circle cx="229.4" cy="248.2" r="2.1"/><circle cx="229.9" cy="260.8" r="2.1"/><circle cx="230.3" cy="252.7" r="2.1"/><circle cx="230.7" cy="252.7" r="2.1"/><circle cx="231.1" cy="260" r="2.1"/><circle cx="231.6" cy="261" r="2.1"/><circle cx="232" cy="253.2" r="2.1"/><circle cx="232.4" cy="254.9" r="2.1"/><circle cx="232.9" cy="258" r="2.1"/><circle cx="233.3" cy="262.4" r="2.1"/><circle cx="233.7" cy="253.2" r="2.1"/><circle cx="234.1" cy="265" r="2.1"/><circle cx="234.6" cy="263.6" r="2.1"/><circle cx="235" cy="259.6" r="2.1"/><circle cx="235.4" cy="259.1" r="2.1"/><circle cx="235.8" cy="261" r="2.1"/><circle cx="236.3" cy="262.8" r="2.1"/><circle cx="236.7" cy="251.5" r="2.1"/><circle cx="237.1" cy="257.4" r="2.1"/><circle cx="237.5" cy="259.8" r="2.1"/><circle cx="238" cy="255.5" r="2.1"/><circle cx="238.4" cy="259.6" r="2.1"/><circle cx="238.8" cy="250.4" r="2.1"/><circle cx="239.2" cy="256" r="2.1"/><circle cx="239.7" cy="253.9" r="2.1"/><circle cx="240.1" cy="248.7" r="2.1"/><circle cx="240.5" cy="257.9" r="2.1"/><circle cx="240.9" cy="259.8" r="2.1"/><circle cx="241.4" cy="248.7" r="2.1"/><circle cx="241.8" cy="254.4" r="2.1"/><circle cx="242.2" cy="248.7" r="2.1"/><circle cx="242.6" cy="248.9" r="2.1"/><circle cx="243.1" cy="252.7" r="2.1"/><circle cx="243.5" cy="262.5" r="2.1"/><circle cx="243.9" cy="254" r="2.1"/><circle cx="244.4" cy="259.1" r="2.1"/><circle cx="244.8" cy="260.8" r="2.1"/><circle cx="245.2" cy="257.4" r="2.1"/><circle cx="245.6" cy="259.7" r="2.1"/><circle cx="246.1" cy="251.9" r="2.1"/><circle cx="246.5" cy="249.6" r="2.1"/><circle cx="246.9" cy="261.9" r="2.1"/><circle cx="247.3" cy="258.8" r="2.1"/><circle cx="247.8" cy="258.6" r="2.1"/><circle cx="248.2" cy="260" r="2.1"/><circle cx="248.6" cy="249" r="2.1"/><circle cx="249" cy="258.2" r="2.1"/><circle cx="249.5" cy="256.5" r="2.1"/><circle cx="249.9" cy="260.5" r="2.1"/><circle cx="250.3" cy="257.7" r="2.1"/><circle cx="250.7" cy="248.7" r="2.1"/><circle cx="251.2" cy="247.3" r="2.1"/><circle cx="251.6" cy="251.3" r="2.1"/><circle cx="252" cy="256.1" r="2.1"/><circle cx="252.4" cy="259.2" r="2.1"/><circle cx="252.9" cy="247.7" r="2.1"/><circle cx="253.3" cy="257.5" r="2.1"/><circle cx="253.7" cy="243.3" r="2.1"/><circle cx="254.2" cy="251.5" r="2.1"/><circle cx="254.6" cy="255.6" r="2.1"/><circle cx="255" cy="247.3" r="2.1"/><circle cx="255.4" cy="252" r="2.1"/><circle cx="255.9" cy="252.2" r="2.1"/><circle cx="256.3" cy="246.7" r="2.1"/><circle cx="256.7" cy="246.7" r="2.1"/><circle cx="257.1" cy="255.3" r="2.1"/><circle cx="257.6" cy="258.2" r="2.1"/><circle cx="258" cy="250.1" r="2.1"/><circle cx="258.4" cy="244.4" r="2.1"/><circle cx="258.8" cy="258.5" r="2.1"/><circle cx="259.3" cy="257.5" r="2.1"/><circle cx="259.7" cy="254" r="2.1"/><circle cx="260.1" cy="257.5" r="2.1"/><circle cx="260.5" cy="256.7" r="2.1"/><circle cx="261" cy="251.4" r="2.1"/><circle cx="261.4" cy="254.5" r="2.1"/><circle cx="261.8" cy="257.9" r="2.1"/><circle cx="262.2" cy="257.1" r="2.1"/><circle cx="262.7" cy="251.3" r="2.1"/><circle cx="263.1" cy="259.1" r="2.1"/><circle cx="263.5" cy="254.4" r="2.1"/><circle cx="263.9" cy="254.7" r="2.1"/><circle cx="264.4" cy="258.3" r="2.1"/></g></g>
<text class="t" x="222.2" y="187.3">val Objectness</text>
<text class="y" x="166.9" y="201.6">0.0375</text><text class="y" x="166.9" y="225.4">0.0350</text><text class="y" x="166.9" y="249.2">0.0325</text><text class="y" x="166.9" y="272.9">0.0300</text><text class="y" x="166.9" y="296.6">0.0275</text><text class="y" x="166.9" y="320.3">0.0250</text>
<text class="x" x="179.6" y="341.3">0</text><text class="x" x="222.2" y="341.3">100</text><text class="x" x="264.8" y="341.3">200</text>
</g>
<g>
<rect x="308" y="193.2" width="92" height="133.2" fill="#e8ebf3"/>
<line class="g" x1="311.4" y1="193.2" x2="311.4" y2="326.4"/><line class="g" x1="353.9" y1="193.2" x2="353.9" y2="326.4"/><line class="g" x1="396.5" y1="193.2" x2="396.5" y2="326.4"/><line class="g" x1="308" y1="224.3" x2="400" y2="224.3"/><line class="g" x1="308" y1="257.2" x2="400" y2="257.2"/><line class="g" x1="308" y1="290.1" x2="400" y2="290.1"/><line class="g" x1="308" y1="323" x2="400" y2="323"/>
<clipPath id="c6"><rect x="308" y="193.2" width="92" height="133.2"/></clipPath>
<g clip-path="url(#c6)"><polyline class="l" points="311.4,321 311.8,313.3 312.3,299.8 312.7,300 313.1,285.2 313.5,300.5 314,295.9 314.4,292.1 314.8,240.3 315.2,237 315.7,250.6 316.1,240.8 316.5,246.3 316.9,231.5 317.4,225.9 317.8,238.7 318.2,224.5 318.6,225.7 319.1,223 319.5,232 319.9,215.6 320.3,222 320.8,224.9 321.2,213.6 321.6,221.6 322,229.1 322.5,222.9 322.9,228.1 323.3,211.7 323.7,221.7 324.2,223.8 324.6,210.9 325,227.1 325.4,214.3 325.9,226.8 326.3,222.5 326.7,226.2 327.1,208.5 327.6,208.3 328,219.5 328.4,210.8 328.8,218.1 329.3,212.5 329.7,222 330.1,225.5 330.5,225.4 331,213.2 331.4,206.6 331.8,213.7 332.2,219.4 332.7,206.1 333.1,213.4 333.5,214.3 334,213 334.4,215.7 334.8,216.9 335.2,223.6 335.7,248.5 336.1,214.9 336.5,205.5 336.9,216.7 337.4,222.8 337.8,214.5 338.2,204.9 338.6,216.3 339.1,219.7 339.5,221.6 339.9,220.5 340.3,215.2 340.8,221 341.2,204.6 341.6,214.7 342,211.9 342.5,204.1 342.9,204 343.3,213.5 343.7,209.8 344.2,206.9 344.6,212.9 345,219.7 345.4,207 345.9,205.2 346.3,208.2 346.7,216.8 347.1,211.9 347.6,214.3 348,212.2 348.4,202 348.8,201.9 349.3,205.4 349.7,206 350.1,205 350.5,198.5 351,209.5 351.4,213 351.8,209.1 352.2,201.3 352.7,203.5 353.1,210.5 353.5,211.1 353.9,213.1 354.4,206.2 354.8,206 355.2,215.1 355.7,205.5 356.1,211.3 356.5,201.3 356.9,207.3 357.4,201.3 357.8,210.6 358.2,199.1 358.6,206.4 359.1,202.2 359.5,204.8 359.9,214.6 360.3,206.8 360.8,207.7 361.2,210.1 361.6,211.2 362,200.8 362.5,209.7 362.9,212.1 363.3,204 363.7,206.6 364.2,207.7 364.6,203 365,204.5 365.4,197.7 365.9,202 366.3,205.4 366.7,209.9 367.1,208.6 367.6,209.3 368,205.7 368.4,211.8 368.8,212.5 369.3,199.1 369.7,212.2 370.1,212.1 370.5,204.8 371,209.7 371.4,204.4 371.8,209.2 372.2,212.1 372.7,212.8 373.1,209.5 373.5,208.5 373.9,211.3 374.4,208.8 374.8,199.1 375.2,207.5 375.7,214.2 376.1,209 376.5,204.7 376.9,202.9 377.4,202.4 377.8,215.1 378.2,217.2 378.6,203.2 379.1,204.5 379.5,213.3 379.9,207.3 380.3,203.9 380.8,214.2 381.2,207.3 381.6,205.1 382,211.6 382.5,206.7 382.9,212.6 383.3,211.5 383.7,211.3 384.2,207.5 384.6,208.3 385,204.4 385.4,211 385.9,208 386.3,203.9 386.7,205.3 387.1,212.1 387.6,204.7 388,209.2 388.4,200.1 388.8,206 389.3,202.3 389.7,206.9 390.1,212.5 390.5,212.6 391,204.5 391.4,208.6 391.8,202.9 392.2,213.8 392.7,210.4 393.1,203.2 393.5,210.1 393.9,211.3 394.4,202.7 394.8,210.6 395.2,204.6 395.6,203.7 396.1,202.5"/>
<g class="m"><circle cx="311.4" cy="321" r="2.1"/><circle cx="311.8" cy="313.3" r="2.1"/><circle cx="312.3" cy="299.8" r="2.1"/><circle cx="312.7" cy="300" r="2.1"/><circle cx="313.1" cy="285.2" r="2.1"/><circle cx="313.5" cy="300.5" r="2.1"/><circle cx="314" cy="295.9" r="2.1"/><circle cx="314.4" cy="292.1" r="2.1"/><circle cx="314.8" cy="240.3" r="2.1"/><circle cx="315.2" cy="237" r="2.1"/><circle cx="315.7" cy="250.6" r="2.1"/><circle cx="316.1" cy="240.8" r="2.1"/><circle cx="316.5" cy="246.3" r="2.1"/><circle cx="316.9" cy="231.5" r="2.1"/><circle cx="317.4" cy="225.9" r="2.1"/><circle cx="317.8" cy="238.7" r="2.1"/><circle cx="318.2" cy="224.5" r="2.1"/><circle cx="318.6" cy="225.7" r="2.1"/><circle cx="319.1" cy="223" r="2.1"/><circle cx="319.5" cy="232" r="2.1"/><circle cx="319.9" cy="215.6" r="2.1"/><circle cx="320.3" cy="222" r="2.1"/><circle cx="320.8" cy="224.9" r="2.1"/><circle cx="321.2" cy="213.6" r="2.1"/><circle cx="321.6" cy="221.6" r="2.1"/><circle cx="322" cy="229.1" r="2.1"/><circle cx="322.5" cy="222.9" r="2.1"/><circle cx="322.9" cy="228.1" r="2.1"/><circle cx="323.3" cy="211.7" r="2.1"/><circle cx="323.7" cy="221.7" r="2.1"/><circle cx="324.2" cy="223.8" r="2.1"/><circle cx="324.6" cy="210.9" r="2.1"/><circle cx="325" cy="227.1" r="2.1"/><circle cx="325.4" cy="214.3" r="2.1"/><circle cx="325.9" cy="226.8" r="2.1"/><circle cx="326.3" cy="222.5" r="2.1"/><circle cx="326.7" cy="226.2" r="2.1"/><circle cx="327.1" cy="208.5" r="2.1"/><circle cx="327.6" cy="208.3" r="2.1"/><circle cx="328" cy="219.5" r="2.1"/><circle cx="328.4" cy="210.8" r="2.1"/><circle cx="328.8" cy="218.1" r="2.1"/><circle cx="329.3" cy="212.5" r="2.1"/><circle cx="329.7" cy="222" r="2.1"/><circle cx="330.1" cy="225.5" r="2.1"/><circle cx="330.5" cy="225.4" r="2.1"/><circle cx="331" cy="213.2" r="2.1"/><circle cx="331.4" cy="206.6" r="2.1"/><circle cx="331.8" cy="213.7" r="2.1"/><circle cx="332.2" cy="219.4" r="2.1"/><circle cx="332.7" cy="206.1" r="2.1"/><circle cx="333.1" cy="213.4" r="2.1"/><circle cx="333.5" cy="214.3" r="2.1"/><circle cx="334" cy="213" r="2.1"/><circle cx="334.4" cy="215.7" r="2.1"/><circle cx="334.8" cy="216.9" r="2.1"/><circle cx="335.2" cy="223.6" r="2.1"/><circle cx="335.7" cy="248.5" r="2.1"/><circle cx="336.1" cy="214.9" r="2.1"/><circle cx="336.5" cy="205.5" r="2.1"/><circle cx="336.9" cy="216.7" r="2.1"/><circle cx="337.4" cy="222.8" r="2.1"/><circle cx="337.8" cy="214.5" r="2.1"/><circle cx="338.2" cy="204.9" r="2.1"/><circle cx="338.6" cy="216.3" r="2.1"/><circle cx="339.1" cy="219.7" r="2.1"/><circle cx="339.5" cy="221.6" r="2.1"/><circle cx="339.9" cy="220.5" r="2.1"/><circle cx="340.3" cy="215.2" r="2.1"/><circle cx="340.8" cy="221" r="2.1"/><circle cx="341.2" cy="204.6" r="2.1"/><circle cx="341.6" cy="214.7" r="2.1"/><circle cx="342" cy="211.9" r="2.1"/><circle cx="342.5" cy="204.1" r="2.1"/><circle cx="342.9" cy="204" r="2.1"/><circle cx="343.3" cy="213.5" r="2.1"/><circle cx="343.7" cy="209.8" r="2.1"/><circle cx="344.2" cy="206.9" r="2.1"/><circle cx="344.6" cy="212.9" r="2.1"/><circle cx="345" cy="219.7" r="2.1"/><circle cx="345.4" cy="207" r="2.1"/><circle cx="345.9" cy="205.2" r="2.1"/><circle cx="346.3" cy="208.2" r="2.1"/><circle cx="346.7" cy="216.8" r="2.1"/><circle cx="347.1" cy="211.9" r="2.1"/><circle cx="347.6" cy="214.3" r="2.1"/><circle cx="348" cy="212.2" r="2.1"/><circle cx="348.4" cy="202" r="2.1"/><circle cx="348.8" cy="201.9" r="2.1"/><circle cx="349.3" cy="205.4" r="2.1"/><circle cx="349.7" cy="206" r="2.1"/><circle cx="350.1" cy="205" r="2.1"/><circle cx="350.5" cy="198.5" r="2.1"/><circle cx="351" cy="209.5" r="2.1"/><circle cx="351.4" cy="213" r="2.1"/><circle cx="351.8" cy="209.1" r="2.1"/><circle cx="352.2" cy="201.3" r="2.1"/><circle cx="352.7" cy="203.5" r="2.1"/><circle cx="353.1" cy="210.5" r="2.1"/><circle cx="353.5" cy="211.1" r="2.1"/><circle cx="353.9" cy="213.1" r="2.1"/><circle cx="354.4" cy="206.2" r="2.1"/><circle cx="354.8" cy="206" r="2.1"/><circle cx="355.2" cy="215.1" r="2.1"/><circle cx="355.7" cy="205.5" r="2.1"/><circle cx="356.1" cy="211.3" r="2.1"/><circle cx="356.5" cy="201.3" r="2.1"/><circle cx="356.9" cy="207.3" r="2.1"/><circle cx="357.4" cy="201.3" r="2.1"/><circle cx="357.8" cy="210.6" r="2.1"/><circle cx="358.2" cy="199.1" r="2.1"/><circle cx="358.6" cy="206.4" r="2.1"/><circle cx="359.1" cy="202.2" r="2.1"/><circle cx="359.5" cy="204.8" r="2.1"/><circle cx="359.9" cy="214.6" r="2.1"/><circle cx="360.3" cy="206.8" r="2.1"/><circle cx="360.8" cy="207.7" r="2.1"/><circle cx="361.2" cy="210.1" r="2.1"/><circle cx="361.6" cy="211.2" r="2.1"/><circle cx="362" cy="200.8" r="2.1"/><circle cx="362.5" cy="209.7" r="2.1"/><circle cx="362.9" cy="212.1" r="2.1"/><circle cx="363.3" cy="204" r="2.1"/><circle cx="363.7" cy="206.6" r="2.1"/><circle cx="364.2" cy="207.7" r="2.1"/><circle cx="364.6" cy="203" r="2.1"/><circle cx="365" cy="204.5" r="2.1"/><circle cx="365.4" cy="197.7" r="2.1"/><circle cx="365.9" cy="202" r="2.1"/><circle cx="366.3" cy="205.4" r="2.1"/><circle cx="366.7" cy="209.9" r="2.1"/><circle cx="367.1" cy="208.6" r="2.1"/><circle cx="367.6" cy="209.3" r="2.1"/><circle cx="368" cy="205.7" r="2.1"/><circle cx="368.4" cy="211.8" r="2.1"/><circle cx="368.8" cy="212.5" r="2.1"/><circle cx="369.3" cy="199.1" r="2.1"/><circle cx="369.7" cy="212.2" r="2.1"/><circle cx="370.1" cy="212.1" r="2.1"/><circle cx="370.5" cy="204.8" r="2.1"/><circle cx="371" cy="209.7" r="2.1"/><circle cx="371.4" cy="204.4" r="2.1"/><circle cx="371.8" cy="209.2" r="2.1"/><circle cx="372.2" cy="212.1" r="2.1"/><circle cx="372.7" cy="212.8" r="2.1"/><circle cx="373.1" cy="209.5" r="2.1"/><circle cx="373.5" cy="208.5" r="2.1"/><circle cx="373.9" cy="211.3" r="2.1"/><circle cx="374.4" cy="208.8" r="2.1"/><circle cx="374.8" cy="199.1" r="2.1"/><circle cx="375.2" cy="207.5" r="2.1"/><circle cx="375.7" cy="214.2" r="2.1"/><circle cx="376.1" cy="209" r="2.1"/><circle cx="376.5" cy="204.7" r="2.1"/><circle cx="376.9" cy="202.9" r="2.1"/><circle cx="377.4" cy="202.4" r="2.1"/><circle cx="377.8" cy="215.1" r="2.1"/><circle cx="378.2" cy="217.2" r="2.1"/><circle cx="378.6" cy="203.2" r="2.1"/><circle cx="379.1" cy="204.5" r="2.1"/><circle cx="379.5" cy="213.3" r="2.1"/><circle cx="379.9" cy="207.3" r="2.1"/><circle cx="380.3" cy="203.9" r="2.1"/><circle cx="380.8" cy="214.2" r="2.1"/><circle cx="381.2" cy="207.3" r="2.1"/><circle cx="381.6" cy="205.1" r="2.1"/><circle cx="382" cy="211.6" r="2.1"/><circle cx="382.5" cy="206.7" r="2.1"/><circle cx="382.9" cy="212.6" r="2.1"/><circle cx="383.3" cy="211.5" r="2.1"/><circle cx="383.7" cy="211.3" r="2.1"/><circle cx="384.2" cy="207.5" r="2.1"/><circle cx="384.6" cy="208.3" r="2.1"/><circle cx="385" cy="204.4" r="2.1"/><circle cx="385.4" cy="211" r="2.1"/><circle cx="385.9" cy="208" r="2.1"/><circle cx="386.3" cy="203.9" r="2.1"/><circle cx="386.7" cy="205.3" r="2.1"/><circle cx="387.1" cy="212.1" r="2.1"/><circle cx="387.6" cy="204.7" r="2.1"/><circle cx="388" cy="209.2" r="2.1"/><circle cx="388.4" cy="200.1" r="2.1"/><circle cx="388.8" cy="206" r="2.1"/><circle cx="389.3" cy="202.3" r="2.1"/><circle cx="389.7" cy="206.9" r="2.1"/><circle cx="390.1" cy="212.5" r="2.1"/><circle cx="390.5" cy="212.6" r="2.1"/><circle cx="391" cy="204.5" r="2.1"/><circle cx="391.4" cy="208.6" r="2.1"/><circle cx="391.8" cy="202.9" r="2.1"/><circle cx="392.2" cy="213.8" r="2.1"/><circle cx="392.7" cy="210.4" r="2.1"/><circle cx="393.1" cy="203.2" r="2.1"/><circle cx="393.5" cy="210.1" r="2.1"/><circle cx="393.9" cy="211.3" r="2.1"/><circle cx="394.4" cy="202.7" r="2.1"/><circle cx="394.8" cy="210.6" r="2.1"/><circle cx="395.2" cy="204.6" r="2.1"/><circle cx="395.6" cy="203.7" r="2.1"/><circle cx="396.1" cy="202.5" r="2.1"/></g></g>
<text class="t" x="354" y="187.3">mAP@0.5</text>
<text class="y" x="298.7" y="227.4">0.6</text><text class="y" x="298.7" y="260.3">0.4</text><text class="y" x="298.7" y="293.2">0.2</text><text class="y" x="298.7" y="326.1">0.0</text>
<text class="x" x="311.4" y="341.3">0</text><text class="x" x="353.9" y="341.3">100</text><text class="x" x="396.5" y="341.3">200</text>
</g>
<g>
<rect x="451" y="193.2" width="92.2" height="133.2" fill="#e8ebf3"/>
<line class="g" x1="454.4" y1="193.2" x2="454.4" y2="326.4"/><line class="g" x1="497.1" y1="193.2" x2="497.1" y2="326.4"/><line class="g" x1="539.7" y1="193.2" x2="539.7" y2="326.4"/><line class="g" x1="451" y1="211" x2="543.2" y2="211"/><line class="g" x1="451" y1="247.8" x2="543.2" y2="247.8"/><line class="g" x1="451" y1="284.6" x2="543.2" y2="284.6"/><line class="g" x1="451" y1="321.4" x2="543.2" y2="321.4"/>
<clipPath id="c7"><rect x="451" y="193.2" width="92.2" height="133.2"/></clipPath>
<g clip-path="url(#c7)"><polyline class="l" points="454.4,320.7 454.8,317.4 455.3,311.2 455.7,310.4 456.1,297.7 456.5,309.3 457,306.7 457.4,304.5 457.8,263.3 458.2,273.6 458.7,267.9 459.1,262.5 459.5,251.5 459.9,257 460.4,251.1 460.8,252 461.2,239.4 461.7,253.5 462.1,241.9 462.5,242.1 462.9,229.2 463.4,243.4 463.8,238.9 464.2,233 464.6,245.9 465.1,238.5 465.5,229 465.9,222.7 466.3,230.5 466.8,236.5 467.2,220.6 467.6,232.2 468,229.8 468.5,228.2 468.9,229.9 469.3,233.6 469.8,224.5 470.2,238.5 470.6,232.3 471,231.2 471.5,235.6 471.9,226.1 472.3,225.3 472.7,225.6 473.2,227.5 473.6,220.8 474,214.1 474.4,216.1 474.9,236.8 475.3,214.3 475.7,236.4 476.2,236.2 476.6,223.1 477,235.8 477.4,212 477.9,217 478.3,231.1 478.7,262.9 479.1,220 479.6,211.5 480,221.9 480.4,211 480.8,217.6 481.3,215 481.7,225.1 482.1,218.6 482.5,224 483,233.3 483.4,210.1 483.8,222.8 484.3,220.2 484.7,209.8 485.1,220 485.5,219 486,217.1 486.4,231.7 486.8,209.3 487.2,217.6 487.7,226.8 488.1,212.1 488.5,217.5 488.9,230.2 489.4,219.5 489.8,220.9 490.2,217.6 490.7,217.2 491.1,213.7 491.5,233.1 491.9,220.9 492.4,236 492.8,215.5 493.2,232.6 493.6,232 494.1,223.7 494.5,207.5 494.9,208.3 495.3,217.7 495.8,207.2 496.2,219.4 496.6,218.9 497.1,209.9 497.5,214.3 497.9,217.4 498.3,220.6 498.8,217.2 499.2,207.6 499.6,227.2 500,222.2 500.5,205.5 500.9,205.3 501.3,227.2 501.7,212.5 502.2,204.8 502.6,217.9 503,221.1 503.4,204.4 503.9,220.8 504.3,222.3 504.7,220.5 505.2,226.3 505.6,225.8 506,204.3 506.4,203.3 506.9,211.9 507.3,215.2 507.7,209 508.1,214.3 508.6,222.6 509,221.9 509.4,208.6 509.8,214.6 510.3,220.8 510.7,220.4 511.1,203.7 511.6,219.5 512,202 512.4,206.7 512.8,217.8 513.3,198.5 513.7,209.1 514.1,207.5 514.5,208.4 515,200.7 515.4,203.2 515.8,214.5 516.2,211.9 516.7,217.8 517.1,214.8 517.5,210.1 517.9,220.7 518.4,198.1 518.8,211.3 519.2,213.1 519.7,221.1 520.1,216 520.5,217.6 520.9,212.5 521.4,220.9 521.8,214.2 522.2,208.8 522.6,217.3 523.1,217.3 523.5,207.7 523.9,205.1 524.3,208.6 524.8,208.1 525.2,210.8 525.6,207.1 526.1,207.6 526.5,214.2 526.9,208 527.3,205.4 527.8,212 528.2,207.3 528.6,203.3 529,204.4 529.5,208.9 529.9,202.7 530.3,203.5 530.7,209.8 531.2,215 531.6,210.2 532,207.7 532.4,210.5 532.9,208.3 533.3,201.6 533.7,203.9 534.2,201.4 534.6,215.7 535,208.5 535.4,201.2 535.9,212.5 536.3,201.1 536.7,213.9 537.1,210.5 537.6,200.9 538,212.4 538.4,202.8 538.8,211.5 539.3,199.7"/>
<g class="m"><circle cx="454.4" cy="320.7" r="2.1"/><circle cx="454.8" cy="317.4" r="2.1"/><circle cx="455.3" cy="311.2" r="2.1"/><circle cx="455.7" cy="310.4" r="2.1"/><circle cx="456.1" cy="297.7" r="2.1"/><circle cx="456.5" cy="309.3" r="2.1"/><circle cx="457" cy="306.7" r="2.1"/><circle cx="457.4" cy="304.5" r="2.1"/><circle cx="457.8" cy="263.3" r="2.1"/><circle cx="458.2" cy="273.6" r="2.1"/><circle cx="458.7" cy="267.9" r="2.1"/><circle cx="459.1" cy="262.5" r="2.1"/><circle cx="459.5" cy="251.5" r="2.1"/><circle cx="459.9" cy="257" r="2.1"/><circle cx="460.4" cy="251.1" r="2.1"/><circle cx="460.8" cy="252" r="2.1"/><circle cx="461.2" cy="239.4" r="2.1"/><circle cx="461.7" cy="253.5" r="2.1"/><circle cx="462.1" cy="241.9" r="2.1"/><circle cx="462.5" cy="242.1" r="2.1"/><circle cx="462.9" cy="229.2" r="2.1"/><circle cx="463.4" cy="243.4" r="2.1"/><circle cx="463.8" cy="238.9" r="2.1"/><circle cx="464.2" cy="233" r="2.1"/><circle cx="464.6" cy="245.9" r="2.1"/><circle cx="465.1" cy="238.5" r="2.1"/><circle cx="465.5" cy="229" r="2.1"/><circle cx="465.9" cy="222.7" r="2.1"/><circle cx="466.3" cy="230.5" r="2.1"/><circle cx="466.8" cy="236.5" r="2.1"/><circle cx="467.2" cy="220.6" r="2.1"/><circle cx="467.6" cy="232.2" r="2.1"/><circle cx="468" cy="229.8" r="2.1"/><circle cx="468.5" cy="228.2" r="2.1"/><circle cx="468.9" cy="229.9" r="2.1"/><circle cx="469.3" cy="233.6" r="2.1"/><circle cx="469.8" cy="224.5" r="2.1"/><circle cx="470.2" cy="238.5" r="2.1"/><circle cx="470.6" cy="232.3" r="2.1"/><circle cx="471" cy="231.2" r="2.1"/><circle cx="471.5" cy="235.6" r="2.1"/><circle cx="471.9" cy="226.1" r="2.1"/><circle cx="472.3" cy="225.3" r="2.1"/><circle cx="472.7" cy="225.6" r="2.1"/><circle cx="473.2" cy="227.5" r="2.1"/><circle cx="473.6" cy="220.8" r="2.1"/><circle cx="474" cy="214.1" r="2.1"/><circle cx="474.4" cy="216.1" r="2.1"/><circle cx="474.9" cy="236.8" r="2.1"/><circle cx="475.3" cy="214.3" r="2.1"/><circle cx="475.7" cy="236.4" r="2.1"/><circle cx="476.2" cy="236.2" r="2.1"/><circle cx="476.6" cy="223.1" r="2.1"/><circle cx="477" cy="235.8" r="2.1"/><circle cx="477.4" cy="212" r="2.1"/><circle cx="477.9" cy="217" r="2.1"/><circle cx="478.3" cy="231.1" r="2.1"/><circle cx="478.7" cy="262.9" r="2.1"/><circle cx="479.1" cy="220" r="2.1"/><circle cx="479.6" cy="211.5" r="2.1"/><circle cx="480" cy="221.9" r="2.1"/><circle cx="480.4" cy="211" r="2.1"/><circle cx="480.8" cy="217.6" r="2.1"/><circle cx="481.3" cy="215" r="2.1"/><circle cx="481.7" cy="225.1" r="2.1"/><circle cx="482.1" cy="218.6" r="2.1"/><circle cx="482.5" cy="224" r="2.1"/><circle cx="483" cy="233.3" r="2.1"/><circle cx="483.4" cy="210.1" r="2.1"/><circle cx="483.8" cy="222.8" r="2.1"/><circle cx="484.3" cy="220.2" r="2.1"/><circle cx="484.7" cy="209.8" r="2.1"/><circle cx="485.1" cy="220" r="2.1"/><circle cx="485.5" cy="219" r="2.1"/><circle cx="486" cy="217.1" r="2.1"/><circle cx="486.4" cy="231.7" r="2.1"/><circle cx="486.8" cy="209.3" r="2.1"/><circle cx="487.2" cy="217.6" r="2.1"/><circle cx="487.7" cy="226.8" r="2.1"/><circle cx="488.1" cy="212.1" r="2.1"/><circle cx="488.5" cy="217.5" r="2.1"/><circle cx="488.9" cy="230.2" r="2.1"/><circle cx="489.4" cy="219.5" r="2.1"/><circle cx="489.8" cy="220.9" r="2.1"/><circle cx="490.2" cy="217.6" r="2.1"/><circle cx="490.7" cy="217.2" r="2.1"/><circle cx="491.1" cy="213.7" r="2.1"/><circle cx="491.5" cy="233.1" r="2.1"/><circle cx="491.9" cy="220.9" r="2.1"/><circle cx="492.4" cy="236" r="2.1"/><circle cx="492.8" cy="215.5" r="2.1"/><circle cx="493.2" cy="232.6" r="2.1"/><circle cx="493.6" cy="232" r="2.1"/><circle cx="494.1" cy="223.7" r="2.1"/><circle cx="494.5" cy="207.5" r="2.1"/><circle cx="494.9" cy="208.3" r="2.1"/><circle cx="495.3" cy="217.7" r="2.1"/><circle cx="495.8" cy="207.2" r="2.1"/><circle cx="496.2" cy="219.4" r="2.1"/><circle cx="496.6" cy="218.9" r="2.1"/><circle cx="497.1" cy="209.9" r="2.1"/><circle cx="497.5" cy="214.3" r="2.1"/><circle cx="497.9" cy="217.4" r="2.1"/><circle cx="498.3" cy="220.6" r="2.1"/><circle cx="498.8" cy="217.2" r="2.1"/><circle cx="499.2" cy="207.6" r="2.1"/><circle cx="499.6" cy="227.2" r="2.1"/><circle cx="500" cy="222.2" r="2.1"/><circle cx="500.5" cy="205.5" r="2.1"/><circle cx="500.9" cy="205.3" r="2.1"/><circle cx="501.3" cy="227.2" r="2.1"/><circle cx="501.7" cy="212.5" r="2.1"/><circle cx="502.2" cy="204.8" r="2.1"/><circle cx="502.6" cy="217.9" r="2.1"/><circle cx="503" cy="221.1" r="2.1"/><circle cx="503.4" cy="204.4" r="2.1"/><circle cx="503.9" cy="220.8" r="2.1"/><circle cx="504.3" cy="222.3" r="2.1"/><circle cx="504.7" cy="220.5" r="2.1"/><circle cx="505.2" cy="226.3" r="2.1"/><circle cx="505.6" cy="225.8" r="2.1"/><circle cx="506" cy="204.3" r="2.1"/><circle cx="506.4" cy="203.3" r="2.1"/><circle cx="506.9" cy="211.9" r="2.1"/><circle cx="507.3" cy="215.2" r="2.1"/><circle cx="507.7" cy="209" r="2.1"/><circle cx="508.1" cy="214.3" r="2.1"/><circle cx="508.6" cy="222.6" r="2.1"/><circle cx="509" cy="221.9" r="2.1"/><circle cx="509.4" cy="208.6" r="2.1"/><circle cx="509.8" cy="214.6" r="2.1"/><circle cx="510.3" cy="220.8" r="2.1"/><circle cx="510.7" cy="220.4" r="2.1"/><circle cx="511.1" cy="203.7" r="2.1"/><circle cx="511.6" cy="219.5" r="2.1"/><circle cx="512" cy="202" r="2.1"/><circle cx="512.4" cy="206.7" r="2.1"/><circle cx="512.8" cy="217.8" r="2.1"/><circle cx="513.3" cy="198.5" r="2.1"/><circle cx="513.7" cy="209.1" r="2.1"/><circle cx="514.1" cy="207.5" r="2.1"/><circle cx="514.5" cy="208.4" r="2.1"/><circle cx="515" cy="200.7" r="2.1"/><circle cx="515.4" cy="203.2" r="2.1"/><circle cx="515.8" cy="214.5" r="2.1"/><circle cx="516.2" cy="211.9" r="2.1"/><circle cx="516.7" cy="217.8" r="2.1"/><circle cx="517.1" cy="214.8" r="2.1"/><circle cx="517.5" cy="210.1" r="2.1"/><circle cx="517.9" cy="220.7" r="2.1"/><circle cx="518.4" cy="198.1" r="2.1"/><circle cx="518.8" cy="211.3" r="2.1"/><circle cx="519.2" cy="213.1" r="2.1"/><circle cx="519.7" cy="221.1" r="2.1"/><circle cx="520.1" cy="216" r="2.1"/><circle cx="520.5" cy="217.6" r="2.1"/><circle cx="520.9" cy="212.5" r="2.1"/><circle cx="521.4" cy="220.9" r="2.1"/><circle cx="521.8" cy="214.2" r="2.1"/><circle cx="522.2" cy="208.8" r="2.1"/><circle cx="522.6" cy="217.3" r="2.1"/><circle cx="523.1" cy="217.3" r="2.1"/><circle cx="523.5" cy="207.7" r="2.1"/><circle cx="523.9" cy="205.1" r="2.1"/><circle cx="524.3" cy="208.6" r="2.1"/><circle cx="524.8" cy="208.1" r="2.1"/><circle cx="525.2" cy="210.8" r="2.1"/><circle cx="525.6" cy="207.1" r="2.1"/><circle cx="526.1" cy="207.6" r="2.1"/><circle cx="526.5" cy="214.2" r="2.1"/><circle cx="526.9" cy="208" r="2.1"/><circle cx="527.3" cy="205.4" r="2.1"/><circle cx="527.8" cy="212" r="2.1"/><circle cx="528.2" cy="207.3" r="2.1"/><circle cx="528.6" cy="203.3" r="2.1"/><circle cx="529" cy="204.4" r="2.1"/><circle cx="529.5" cy="208.9" r="2.1"/><circle cx="529.9" cy="202.7" r="2.1"/><circle cx="530.3" cy="203.5" r="2.1"/><circle cx="530.7" cy="209.8" r="2.1"/><circle cx="531.2" cy="215" r="2.1"/><circle cx="531.6" cy="210.2" r="2.1"/><circle cx="532" cy="207.7" r="2.1"/><circle cx="532.4" cy="210.5" r="2.1"/><circle cx="532.9" cy="208.3" r="2.1"/><circle cx="533.3" cy="201.6" r="2.1"/><circle cx="533.7" cy="203.9" r="2.1"/><circle cx="534.2" cy="201.4" r="2.1"/><circle cx="534.6" cy="215.7" r="2.1"/><circle cx="535" cy="208.5" r="2.1"/><circle cx="535.4" cy="201.2" r="2.1"/><circle cx="535.9" cy="212.5" r="2.1"/><circle cx="536.3" cy="201.1" r="2.1"/><circle cx="536.7" cy="213.9" r="2.1"/><circle cx="537.1" cy="210.5" r="2.1"/><circle cx="537.6" cy="200.9" r="2.1"/><circle cx="538" cy="212.4" r="2.1"/><circle cx="538.4" cy="202.8" r="2.1"/><circle cx="538.8" cy="211.5" r="2.1"/><circle cx="539.3" cy="199.7" r="2.1"/></g></g>
<text class="t" x="497.1" y="187.3">mAP@0.5:0.95</text>
<text class="y" x="441.7" y="214.1">0.3</text><text class="y" x="441.7" y="250.9">0.2</text><text class="y" x="441.7" y="287.7">0.1</text><text class="y" x="441.7" y="324.5">0.0</text>
<text class="x" x="454.4" y="341.3">0</text><text class="x" x="497.1" y="341.3">100</text><text class="x" x="539.7" y="341.3">200</text>
</g>
</svg>
</body></html>
